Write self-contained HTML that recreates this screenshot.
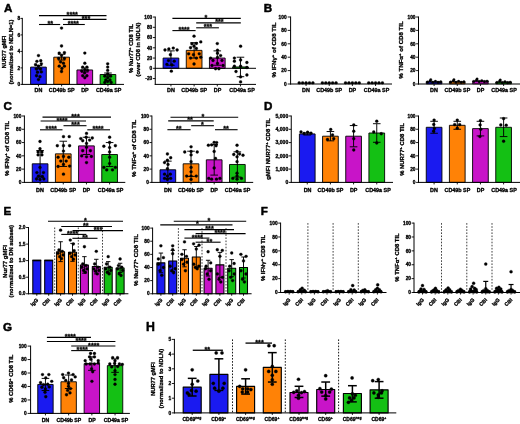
<!DOCTYPE html>
<html><head><meta charset="utf-8"><title>Figure</title>
<style>html,body{margin:0;padding:0;background:#fff}svg{display:block;filter:blur(0.45px)}</style>
</head><body>
<svg width="520" height="424" viewBox="0 0 520 424" font-family="'Liberation Sans',sans-serif" fill="#000">
<g stroke="#000" stroke-width="0.32" stroke-linejoin="round">
<text x="4" y="11.7" font-size="11.6" text-anchor="start" font-weight="bold" stroke-width="0.5">A</text>
<rect x="30.6" y="67.08" width="15.7" height="17.33" fill="#1a1af0" stroke="#000" stroke-width="0.9"/>
<rect x="53.77" y="57.18" width="15.7" height="27.22" fill="#ff8206" stroke="#000" stroke-width="0.9"/>
<rect x="76.94" y="69.96" width="15.7" height="14.44" fill="#c814c8" stroke="#000" stroke-width="0.9"/>
<rect x="100.11" y="74.5" width="15.7" height="9.9" fill="#14c014" stroke="#000" stroke-width="0.9"/>
<line x1="22.3" y1="17.9" x2="22.3" y2="84.9" stroke="#000" stroke-width="1"/>
<line x1="21.8" y1="84.4" x2="124" y2="84.4" stroke="#000" stroke-width="1"/>
<line x1="20.5" y1="18.4" x2="22.3" y2="18.4" stroke="#000" stroke-width="0.9"/>
<text x="20.1" y="20.1" font-size="4.8" text-anchor="end" font-weight="bold">8</text>
<line x1="20.5" y1="34.9" x2="22.3" y2="34.9" stroke="#000" stroke-width="0.9"/>
<text x="20.1" y="36.6" font-size="4.8" text-anchor="end" font-weight="bold">6</text>
<line x1="20.5" y1="51.4" x2="22.3" y2="51.4" stroke="#000" stroke-width="0.9"/>
<text x="20.1" y="53.1" font-size="4.8" text-anchor="end" font-weight="bold">4</text>
<line x1="20.5" y1="67.9" x2="22.3" y2="67.9" stroke="#000" stroke-width="0.9"/>
<text x="20.1" y="69.6" font-size="4.8" text-anchor="end" font-weight="bold">2</text>
<line x1="20.5" y1="84.4" x2="22.3" y2="84.4" stroke="#000" stroke-width="0.9"/>
<text x="20.1" y="86.1" font-size="4.8" text-anchor="end" font-weight="bold">0</text>
<line x1="38.45" y1="84.4" x2="38.45" y2="86.4" stroke="#000" stroke-width="0.9"/>
<line x1="61.62" y1="84.4" x2="61.62" y2="86.4" stroke="#000" stroke-width="0.9"/>
<line x1="84.79" y1="84.4" x2="84.79" y2="86.4" stroke="#000" stroke-width="0.9"/>
<line x1="107.96" y1="84.4" x2="107.96" y2="86.4" stroke="#000" stroke-width="0.9"/>
<line x1="38.45" y1="65.43" x2="38.45" y2="68.73" stroke="#000" stroke-width="0.95"/>
<line x1="34.65" y1="65.43" x2="42.25" y2="65.43" stroke="#000" stroke-width="0.95"/>
<line x1="34.65" y1="68.73" x2="42.25" y2="68.73" stroke="#000" stroke-width="0.95"/>
<line x1="61.62" y1="54.29" x2="61.62" y2="60.06" stroke="#000" stroke-width="0.95"/>
<line x1="57.82" y1="54.29" x2="65.42" y2="54.29" stroke="#000" stroke-width="0.95"/>
<line x1="57.82" y1="60.06" x2="65.42" y2="60.06" stroke="#000" stroke-width="0.95"/>
<line x1="84.79" y1="67.9" x2="84.79" y2="72.03" stroke="#000" stroke-width="0.95"/>
<line x1="80.99" y1="67.9" x2="88.59" y2="67.9" stroke="#000" stroke-width="0.95"/>
<line x1="80.99" y1="72.03" x2="88.59" y2="72.03" stroke="#000" stroke-width="0.95"/>
<line x1="107.96" y1="73.02" x2="107.96" y2="75.98" stroke="#000" stroke-width="0.95"/>
<line x1="104.16" y1="73.02" x2="111.76" y2="73.02" stroke="#000" stroke-width="0.95"/>
<line x1="104.16" y1="75.98" x2="111.76" y2="75.98" stroke="#000" stroke-width="0.95"/>
<text x="38.5" y="92.4" font-size="5.4" text-anchor="middle" font-weight="bold">DN</text>
<text x="61.7" y="92.4" font-size="5.4" text-anchor="middle" font-weight="bold">CD49b SP</text>
<text x="84.9" y="92.4" font-size="5.4" text-anchor="middle" font-weight="bold">DP</text>
<text x="108.7" y="92.4" font-size="5.4" text-anchor="middle" font-weight="bold">CD49a SP</text>
<circle cx="38.46" cy="55.58" r="1.45"/>
<circle cx="36.92" cy="61.35" r="1.45"/>
<circle cx="40.77" cy="60.77" r="1.45"/>
<circle cx="35.58" cy="64.62" r="1.45"/>
<circle cx="41.35" cy="63.85" r="1.45"/>
<circle cx="38.46" cy="66.15" r="1.45"/>
<circle cx="36.54" cy="69.04" r="1.45"/>
<circle cx="40.38" cy="69.04" r="1.45"/>
<circle cx="37.5" cy="72.31" r="1.45"/>
<circle cx="41.35" cy="71.92" r="1.45"/>
<circle cx="36.54" cy="75.77" r="1.45"/>
<circle cx="40" cy="76.73" r="1.45"/>
<circle cx="38.46" cy="79.62" r="1.45"/>
<circle cx="61.54" cy="28.08" r="1.45"/>
<circle cx="61.54" cy="45.96" r="1.45"/>
<circle cx="59.23" cy="53.08" r="1.45"/>
<circle cx="64.42" cy="52.69" r="1.45"/>
<circle cx="61.54" cy="55.58" r="1.45"/>
<circle cx="58.65" cy="58.46" r="1.45"/>
<circle cx="64.42" cy="58.46" r="1.45"/>
<circle cx="60.58" cy="61.92" r="1.45"/>
<circle cx="63.46" cy="63.27" r="1.45"/>
<circle cx="59.23" cy="66.15" r="1.45"/>
<circle cx="64.42" cy="66.15" r="1.45"/>
<circle cx="61.54" cy="71.54" r="1.45"/>
<circle cx="61.92" cy="68.46" r="1.45"/>
<circle cx="84.81" cy="53.08" r="1.45"/>
<circle cx="84.81" cy="63.27" r="1.45"/>
<circle cx="82.69" cy="67.12" r="1.45"/>
<circle cx="86.92" cy="67.12" r="1.45"/>
<circle cx="81.73" cy="70.96" r="1.45"/>
<circle cx="87.5" cy="70.38" r="1.45"/>
<circle cx="84.62" cy="72.88" r="1.45"/>
<circle cx="82.69" cy="75.77" r="1.45"/>
<circle cx="86.92" cy="75.77" r="1.45"/>
<circle cx="84.81" cy="77.69" r="1.45"/>
<circle cx="84.81" cy="69.62" r="1.45"/>
<circle cx="107.69" cy="63.85" r="1.45"/>
<circle cx="107.69" cy="67.12" r="1.45"/>
<circle cx="107.69" cy="70.38" r="1.45"/>
<circle cx="107.69" cy="73.85" r="1.45"/>
<circle cx="104.81" cy="76.15" r="1.45"/>
<circle cx="110.58" cy="76.15" r="1.45"/>
<circle cx="107.69" cy="77.69" r="1.45"/>
<circle cx="105.77" cy="80" r="1.45"/>
<circle cx="110" cy="80" r="1.45"/>
<circle cx="107.69" cy="81.54" r="1.45"/>
<circle cx="104.81" cy="82.5" r="1.45"/>
<circle cx="111.15" cy="82.5" r="1.45"/>
<text x="6.4" y="52" font-size="5.55" text-anchor="middle" font-weight="bold" transform="rotate(-90 6.4 52)">NUR77 gMFI</text>
<text x="13.4" y="52" font-size="5.7" text-anchor="middle" font-weight="bold" transform="rotate(-90 13.4 52)">(normalized to NDLN=1)</text>
<line x1="39" y1="15.6" x2="106.5" y2="15.6" stroke="#000" stroke-width="1.1"/>
<text x="72.2" y="17.1" font-size="7.2" text-anchor="middle" font-weight="bold" stroke-width="0.3">****</text>
<line x1="62.9" y1="19.4" x2="106.5" y2="19.4" stroke="#000" stroke-width="1.1"/>
<text x="86" y="20.9" font-size="7.2" text-anchor="middle" font-weight="bold" stroke-width="0.3">***</text>
<line x1="39" y1="24.5" x2="60.2" y2="24.5" stroke="#000" stroke-width="1.1"/>
<text x="50.3" y="26" font-size="7.2" text-anchor="middle" font-weight="bold" stroke-width="0.3">**</text>
<line x1="63" y1="24.5" x2="84.8" y2="24.5" stroke="#000" stroke-width="1.1"/>
<text x="73.3" y="26" font-size="7.2" text-anchor="middle" font-weight="bold" stroke-width="0.3">****</text>
<rect x="163.1" y="58.05" width="15.7" height="10.25" fill="#1a1af0" stroke="#000" stroke-width="0.9"/>
<rect x="186.27" y="50.36" width="15.7" height="17.94" fill="#ff8206" stroke="#000" stroke-width="0.9"/>
<rect x="209.44" y="58.05" width="15.7" height="10.25" fill="#c814c8" stroke="#000" stroke-width="0.9"/>
<rect x="232.61" y="66.97" width="15.7" height="1.33" fill="#14c014" stroke="#000" stroke-width="0.9"/>
<line x1="155.25" y1="16.55" x2="155.25" y2="84.9" stroke="#000" stroke-width="1"/>
<line x1="154.75" y1="68.3" x2="256" y2="68.3" stroke="#000" stroke-width="1"/>
<line x1="154.75" y1="84.4" x2="256" y2="84.4" stroke="#000" stroke-width="1"/>
<line x1="152.85" y1="17.05" x2="155.25" y2="17.05" stroke="#000" stroke-width="0.9"/>
<text x="152.25" y="18.75" font-size="4.8" text-anchor="end" font-weight="bold">100</text>
<line x1="152.85" y1="27.3" x2="155.25" y2="27.3" stroke="#000" stroke-width="0.9"/>
<text x="152.25" y="29" font-size="4.8" text-anchor="end" font-weight="bold">80</text>
<line x1="152.85" y1="37.55" x2="155.25" y2="37.55" stroke="#000" stroke-width="0.9"/>
<text x="152.25" y="39.25" font-size="4.8" text-anchor="end" font-weight="bold">60</text>
<line x1="152.85" y1="47.8" x2="155.25" y2="47.8" stroke="#000" stroke-width="0.9"/>
<text x="152.25" y="49.5" font-size="4.8" text-anchor="end" font-weight="bold">40</text>
<line x1="152.85" y1="58.05" x2="155.25" y2="58.05" stroke="#000" stroke-width="0.9"/>
<text x="152.25" y="59.75" font-size="4.8" text-anchor="end" font-weight="bold">20</text>
<line x1="152.85" y1="68.3" x2="155.25" y2="68.3" stroke="#000" stroke-width="0.9"/>
<text x="152.25" y="70" font-size="4.8" text-anchor="end" font-weight="bold">0</text>
<line x1="152.85" y1="78.55" x2="155.25" y2="78.55" stroke="#000" stroke-width="0.9"/>
<text x="152.25" y="80.25" font-size="4.8" text-anchor="end" font-weight="bold">-20</text>
<line x1="170.95" y1="84.4" x2="170.95" y2="86.4" stroke="#000" stroke-width="0.9"/>
<line x1="194.12" y1="84.4" x2="194.12" y2="86.4" stroke="#000" stroke-width="0.9"/>
<line x1="217.29" y1="84.4" x2="217.29" y2="86.4" stroke="#000" stroke-width="0.9"/>
<line x1="240.46" y1="84.4" x2="240.46" y2="86.4" stroke="#000" stroke-width="0.9"/>
<line x1="170.95" y1="50.88" x2="170.95" y2="65.22" stroke="#000" stroke-width="0.95"/>
<line x1="167.15" y1="50.88" x2="174.75" y2="50.88" stroke="#000" stroke-width="0.95"/>
<line x1="167.15" y1="65.22" x2="174.75" y2="65.22" stroke="#000" stroke-width="0.95"/>
<line x1="194.12" y1="42.67" x2="194.12" y2="58.05" stroke="#000" stroke-width="0.95"/>
<line x1="190.32" y1="42.67" x2="197.92" y2="42.67" stroke="#000" stroke-width="0.95"/>
<line x1="190.32" y1="58.05" x2="197.92" y2="58.05" stroke="#000" stroke-width="0.95"/>
<line x1="217.29" y1="50.88" x2="217.29" y2="65.22" stroke="#000" stroke-width="0.95"/>
<line x1="213.49" y1="50.88" x2="221.09" y2="50.88" stroke="#000" stroke-width="0.95"/>
<line x1="213.49" y1="65.22" x2="221.09" y2="65.22" stroke="#000" stroke-width="0.95"/>
<line x1="240.46" y1="57.23" x2="240.46" y2="76.7" stroke="#000" stroke-width="0.95"/>
<line x1="236.66" y1="57.23" x2="244.26" y2="57.23" stroke="#000" stroke-width="0.95"/>
<line x1="236.66" y1="76.7" x2="244.26" y2="76.7" stroke="#000" stroke-width="0.95"/>
<text x="171" y="92.2" font-size="5.4" text-anchor="middle" font-weight="bold">DN</text>
<text x="194.2" y="92.2" font-size="5.4" text-anchor="middle" font-weight="bold">CD49b SP</text>
<text x="217.6" y="92.2" font-size="5.4" text-anchor="middle" font-weight="bold">DP</text>
<text x="242" y="92.2" font-size="5.4" text-anchor="middle" font-weight="bold">CD49a SP</text>
<circle cx="165" cy="50" r="1.45"/>
<circle cx="168.85" cy="49.04" r="1.45"/>
<circle cx="173.27" cy="48.08" r="1.45"/>
<circle cx="177.12" cy="50" r="1.45"/>
<circle cx="170.38" cy="54.81" r="1.45"/>
<circle cx="168.46" cy="60.58" r="1.45"/>
<circle cx="174.23" cy="61.15" r="1.45"/>
<circle cx="166.92" cy="64.42" r="1.45"/>
<circle cx="171.92" cy="65" r="1.45"/>
<circle cx="171.35" cy="71.15" r="1.45"/>
<circle cx="194.04" cy="36.15" r="1.45"/>
<circle cx="200.77" cy="41.92" r="1.45"/>
<circle cx="191.92" cy="43.85" r="1.45"/>
<circle cx="196.35" cy="43.46" r="1.45"/>
<circle cx="190.58" cy="47.69" r="1.45"/>
<circle cx="196.35" cy="48.46" r="1.45"/>
<circle cx="194.04" cy="46.15" r="1.45"/>
<circle cx="188.65" cy="53.85" r="1.45"/>
<circle cx="193.46" cy="54.81" r="1.45"/>
<circle cx="199.23" cy="53.85" r="1.45"/>
<circle cx="190.58" cy="58.08" r="1.45"/>
<circle cx="196.35" cy="58.08" r="1.45"/>
<circle cx="200.77" cy="57.31" r="1.45"/>
<circle cx="194.04" cy="64.04" r="1.45"/>
<circle cx="217.3" cy="43.6" r="1.45"/>
<circle cx="217.5" cy="50.25" r="1.45"/>
<circle cx="217.5" cy="53.3" r="1.45"/>
<circle cx="220.6" cy="55.6" r="1.45"/>
<circle cx="210.6" cy="58.1" r="1.45"/>
<circle cx="215.6" cy="68.75" r="1.45"/>
<circle cx="218.9" cy="68.75" r="1.45"/>
<circle cx="213" cy="60.5" r="1.45"/>
<circle cx="222" cy="60.5" r="1.45"/>
<circle cx="217.5" cy="63.5" r="1.45"/>
<circle cx="212" cy="65.5" r="1.45"/>
<circle cx="223" cy="65.5" r="1.45"/>
<circle cx="217.5" cy="57.5" r="1.45"/>
<circle cx="240.6" cy="46.25" r="1.45"/>
<circle cx="234.4" cy="58.1" r="1.45"/>
<circle cx="234.4" cy="61.25" r="1.45"/>
<circle cx="240.6" cy="60" r="1.45"/>
<circle cx="246.9" cy="62.5" r="1.45"/>
<circle cx="234.4" cy="66.25" r="1.45"/>
<circle cx="240.6" cy="66.25" r="1.45"/>
<circle cx="246.9" cy="67.5" r="1.45"/>
<circle cx="246.9" cy="75" r="1.45"/>
<circle cx="240.6" cy="76.9" r="1.45"/>
<circle cx="240.6" cy="81.9" r="1.45"/>
<circle cx="236" cy="71.5" r="1.45"/>
<text x="133" y="48.5" font-size="5.8" text-anchor="middle" font-weight="bold" transform="rotate(-90 133 48.5)">% Nur77<tspan dy="-1.9" font-size="4.2">+</tspan><tspan dy="1.9"> </tspan>CD8 TIL</text>
<text x="139.7" y="49.5" font-size="5.8" text-anchor="middle" font-weight="bold" transform="rotate(-90 139.7 49.5)">(over CD8 in NDLN)</text>
<line x1="172.4" y1="18.4" x2="240.8" y2="18.4" stroke="#000" stroke-width="1.1"/>
<text x="206" y="19.9" font-size="7.2" text-anchor="middle" font-weight="bold" stroke-width="0.3">*</text>
<line x1="196.2" y1="22.9" x2="240.8" y2="22.9" stroke="#000" stroke-width="1.1"/>
<text x="219.4" y="24.4" font-size="7.2" text-anchor="middle" font-weight="bold" stroke-width="0.3">***</text>
<line x1="196.2" y1="27.8" x2="218.9" y2="27.8" stroke="#000" stroke-width="1.1"/>
<text x="207.9" y="29.3" font-size="7.2" text-anchor="middle" font-weight="bold" stroke-width="0.3">***</text>
<line x1="172.4" y1="30.6" x2="195.6" y2="30.6" stroke="#000" stroke-width="1.1"/>
<text x="184" y="32.1" font-size="7.2" text-anchor="middle" font-weight="bold" stroke-width="0.3">****</text>
<text x="263.8" y="11.6" font-size="11.6" text-anchor="start" font-weight="bold" stroke-width="0.5">B</text>
<line x1="290.6" y1="16.5" x2="290.6" y2="84.5" stroke="#000" stroke-width="1"/>
<line x1="290.1" y1="84" x2="392" y2="84" stroke="#000" stroke-width="1"/>
<line x1="287.7" y1="17" x2="290.6" y2="17" stroke="#000" stroke-width="0.9"/>
<text x="286.6" y="18.7" font-size="4.8" text-anchor="end" font-weight="bold">100</text>
<line x1="287.7" y1="30.4" x2="290.6" y2="30.4" stroke="#000" stroke-width="0.9"/>
<text x="286.6" y="32.1" font-size="4.8" text-anchor="end" font-weight="bold">80</text>
<line x1="287.7" y1="43.8" x2="290.6" y2="43.8" stroke="#000" stroke-width="0.9"/>
<text x="286.6" y="45.5" font-size="4.8" text-anchor="end" font-weight="bold">60</text>
<line x1="287.7" y1="57.2" x2="290.6" y2="57.2" stroke="#000" stroke-width="0.9"/>
<text x="286.6" y="58.9" font-size="4.8" text-anchor="end" font-weight="bold">40</text>
<line x1="287.7" y1="70.6" x2="290.6" y2="70.6" stroke="#000" stroke-width="0.9"/>
<text x="286.6" y="72.3" font-size="4.8" text-anchor="end" font-weight="bold">20</text>
<line x1="287.7" y1="84" x2="290.6" y2="84" stroke="#000" stroke-width="0.9"/>
<text x="286.6" y="85.7" font-size="4.8" text-anchor="end" font-weight="bold">0</text>
<line x1="306.05" y1="84" x2="306.05" y2="86" stroke="#000" stroke-width="0.9"/>
<line x1="329.22" y1="84" x2="329.22" y2="86" stroke="#000" stroke-width="0.9"/>
<line x1="352.39" y1="84" x2="352.39" y2="86" stroke="#000" stroke-width="0.9"/>
<line x1="375.56" y1="84" x2="375.56" y2="86" stroke="#000" stroke-width="0.9"/>
<text x="306" y="92.2" font-size="5.4" text-anchor="middle" font-weight="bold">DN</text>
<text x="329.2" y="92.2" font-size="5.4" text-anchor="middle" font-weight="bold">CD49b SP</text>
<text x="352.4" y="92.2" font-size="5.4" text-anchor="middle" font-weight="bold">DP</text>
<text x="376.5" y="92.2" font-size="5.4" text-anchor="middle" font-weight="bold">CD49a SP</text>
<line x1="297.7" y1="83.3" x2="314.4" y2="83.3" stroke="#000" stroke-width="0.9"/>
<circle cx="299.2" cy="82.8" r="1.4"/>
<circle cx="302.62" cy="82.8" r="1.4"/>
<circle cx="306.05" cy="82.8" r="1.4"/>
<circle cx="309.47" cy="82.8" r="1.4"/>
<circle cx="312.9" cy="82.8" r="1.4"/>
<line x1="320.87" y1="83.3" x2="337.57" y2="83.3" stroke="#000" stroke-width="0.9"/>
<circle cx="322.37" cy="82.8" r="1.4"/>
<circle cx="325.8" cy="82.8" r="1.4"/>
<circle cx="329.22" cy="82.8" r="1.4"/>
<circle cx="332.64" cy="82.8" r="1.4"/>
<circle cx="336.07" cy="82.8" r="1.4"/>
<line x1="344.04" y1="83.3" x2="360.74" y2="83.3" stroke="#000" stroke-width="0.9"/>
<circle cx="345.54" cy="82.8" r="1.4"/>
<circle cx="348.96" cy="82.8" r="1.4"/>
<circle cx="352.39" cy="82.8" r="1.4"/>
<circle cx="355.81" cy="82.8" r="1.4"/>
<circle cx="359.24" cy="82.8" r="1.4"/>
<line x1="367.21" y1="83.3" x2="383.91" y2="83.3" stroke="#000" stroke-width="0.9"/>
<circle cx="368.71" cy="82.8" r="1.4"/>
<circle cx="372.13" cy="82.8" r="1.4"/>
<circle cx="375.56" cy="82.8" r="1.4"/>
<circle cx="378.98" cy="82.8" r="1.4"/>
<circle cx="382.41" cy="82.8" r="1.4"/>
<text x="276" y="50" font-size="6.1" text-anchor="middle" font-weight="bold" transform="rotate(-90 276 50)">% IFN&#947;<tspan dy="-1.9" font-size="4.2">+</tspan><tspan dy="1.9"> </tspan>of CD8 TIL</text>
<rect x="426.25" y="81.66" width="15.7" height="2.34" fill="#1a1af0" stroke="#000" stroke-width="0.6"/>
<rect x="449.42" y="81.66" width="15.7" height="2.34" fill="#ff8206" stroke="#000" stroke-width="0.6"/>
<rect x="472.59" y="80.98" width="15.7" height="3.02" fill="#c814c8" stroke="#000" stroke-width="0.6"/>
<rect x="495.76" y="81.99" width="15.7" height="2.01" fill="#14c014" stroke="#000" stroke-width="0.6"/>
<line x1="418.5" y1="16.5" x2="418.5" y2="84.5" stroke="#000" stroke-width="1"/>
<line x1="418" y1="84" x2="520" y2="84" stroke="#000" stroke-width="1"/>
<line x1="416.1" y1="17" x2="418.5" y2="17" stroke="#000" stroke-width="0.9"/>
<text x="415.5" y="18.7" font-size="4.8" text-anchor="end" font-weight="bold">100</text>
<line x1="416.1" y1="30.4" x2="418.5" y2="30.4" stroke="#000" stroke-width="0.9"/>
<text x="415.5" y="32.1" font-size="4.8" text-anchor="end" font-weight="bold">80</text>
<line x1="416.1" y1="43.8" x2="418.5" y2="43.8" stroke="#000" stroke-width="0.9"/>
<text x="415.5" y="45.5" font-size="4.8" text-anchor="end" font-weight="bold">60</text>
<line x1="416.1" y1="57.2" x2="418.5" y2="57.2" stroke="#000" stroke-width="0.9"/>
<text x="415.5" y="58.9" font-size="4.8" text-anchor="end" font-weight="bold">40</text>
<line x1="416.1" y1="70.6" x2="418.5" y2="70.6" stroke="#000" stroke-width="0.9"/>
<text x="415.5" y="72.3" font-size="4.8" text-anchor="end" font-weight="bold">20</text>
<line x1="416.1" y1="84" x2="418.5" y2="84" stroke="#000" stroke-width="0.9"/>
<text x="415.5" y="85.7" font-size="4.8" text-anchor="end" font-weight="bold">0</text>
<line x1="434.1" y1="84" x2="434.1" y2="86" stroke="#000" stroke-width="0.9"/>
<line x1="457.27" y1="84" x2="457.27" y2="86" stroke="#000" stroke-width="0.9"/>
<line x1="480.44" y1="84" x2="480.44" y2="86" stroke="#000" stroke-width="0.9"/>
<line x1="503.61" y1="84" x2="503.61" y2="86" stroke="#000" stroke-width="0.9"/>
<circle cx="427.45" cy="82.16" r="1.35"/>
<circle cx="430.11" cy="81.06" r="1.35"/>
<circle cx="432.77" cy="82.25" r="1.35"/>
<circle cx="435.43" cy="81.45" r="1.35"/>
<circle cx="438.09" cy="82.36" r="1.35"/>
<circle cx="440.75" cy="81.95" r="1.35"/>
<circle cx="430.75" cy="79.66" r="1.25"/>
<circle cx="450.62" cy="82.16" r="1.35"/>
<circle cx="453.28" cy="81.06" r="1.35"/>
<circle cx="455.94" cy="82.25" r="1.35"/>
<circle cx="458.6" cy="81.45" r="1.35"/>
<circle cx="461.26" cy="82.36" r="1.35"/>
<circle cx="463.92" cy="81.95" r="1.35"/>
<circle cx="453.92" cy="79.66" r="1.25"/>
<circle cx="473.79" cy="81.48" r="1.35"/>
<circle cx="476.45" cy="80.39" r="1.35"/>
<circle cx="479.11" cy="81.58" r="1.35"/>
<circle cx="481.77" cy="80.78" r="1.35"/>
<circle cx="484.43" cy="81.69" r="1.35"/>
<circle cx="487.09" cy="81.28" r="1.35"/>
<circle cx="477.09" cy="78.98" r="1.25"/>
<circle cx="496.96" cy="82.49" r="1.35"/>
<circle cx="499.62" cy="81.39" r="1.35"/>
<circle cx="502.28" cy="82.59" r="1.35"/>
<circle cx="504.94" cy="81.79" r="1.35"/>
<circle cx="507.6" cy="82.69" r="1.35"/>
<circle cx="510.26" cy="82.29" r="1.35"/>
<circle cx="500.26" cy="79.99" r="1.25"/>
<text x="434" y="92.2" font-size="5.4" text-anchor="middle" font-weight="bold">DN</text>
<text x="457.4" y="92.2" font-size="5.4" text-anchor="middle" font-weight="bold">CD49b SP</text>
<text x="480.5" y="92.2" font-size="5.4" text-anchor="middle" font-weight="bold">DP</text>
<text x="504" y="92.2" font-size="5.4" text-anchor="middle" font-weight="bold">CD49a SP</text>
<text x="403.3" y="50" font-size="6.1" text-anchor="middle" font-weight="bold" transform="rotate(-90 403.3 50)">% TNF&#945;<tspan dy="-1.9" font-size="4.2">+</tspan><tspan dy="1.9"> </tspan>of CD8 TIL</text>
<text x="3.4" y="109.5" font-size="11.6" text-anchor="start" font-weight="bold" stroke-width="0.5">C</text>
<rect x="32.25" y="163.81" width="15.7" height="18.59" fill="#1a1af0" stroke="#000" stroke-width="0.9"/>
<rect x="55.42" y="153.85" width="15.7" height="28.55" fill="#ff8206" stroke="#000" stroke-width="0.9"/>
<rect x="78.59" y="145.88" width="15.7" height="36.52" fill="#c814c8" stroke="#000" stroke-width="0.9"/>
<rect x="101.76" y="154.51" width="15.7" height="27.89" fill="#14c014" stroke="#000" stroke-width="0.9"/>
<line x1="24.4" y1="115.5" x2="24.4" y2="182.9" stroke="#000" stroke-width="1"/>
<line x1="23.9" y1="182.4" x2="125.3" y2="182.4" stroke="#000" stroke-width="1"/>
<line x1="22" y1="116" x2="24.4" y2="116" stroke="#000" stroke-width="0.9"/>
<text x="21.4" y="117.7" font-size="4.8" text-anchor="end" font-weight="bold">100</text>
<line x1="22" y1="129.28" x2="24.4" y2="129.28" stroke="#000" stroke-width="0.9"/>
<text x="21.4" y="130.98" font-size="4.8" text-anchor="end" font-weight="bold">80</text>
<line x1="22" y1="142.56" x2="24.4" y2="142.56" stroke="#000" stroke-width="0.9"/>
<text x="21.4" y="144.26" font-size="4.8" text-anchor="end" font-weight="bold">60</text>
<line x1="22" y1="155.84" x2="24.4" y2="155.84" stroke="#000" stroke-width="0.9"/>
<text x="21.4" y="157.54" font-size="4.8" text-anchor="end" font-weight="bold">40</text>
<line x1="22" y1="169.12" x2="24.4" y2="169.12" stroke="#000" stroke-width="0.9"/>
<text x="21.4" y="170.82" font-size="4.8" text-anchor="end" font-weight="bold">20</text>
<line x1="22" y1="182.4" x2="24.4" y2="182.4" stroke="#000" stroke-width="0.9"/>
<text x="21.4" y="184.1" font-size="4.8" text-anchor="end" font-weight="bold">0</text>
<line x1="40.1" y1="182.4" x2="40.1" y2="184.4" stroke="#000" stroke-width="0.9"/>
<line x1="63.27" y1="182.4" x2="63.27" y2="184.4" stroke="#000" stroke-width="0.9"/>
<line x1="86.44" y1="182.4" x2="86.44" y2="184.4" stroke="#000" stroke-width="0.9"/>
<line x1="109.61" y1="182.4" x2="109.61" y2="184.4" stroke="#000" stroke-width="0.9"/>
<line x1="40.1" y1="150.53" x2="40.1" y2="177.09" stroke="#000" stroke-width="0.95"/>
<line x1="36.3" y1="150.53" x2="43.9" y2="150.53" stroke="#000" stroke-width="0.95"/>
<line x1="36.3" y1="177.09" x2="43.9" y2="177.09" stroke="#000" stroke-width="0.95"/>
<line x1="63.27" y1="141.23" x2="63.27" y2="166.46" stroke="#000" stroke-width="0.95"/>
<line x1="59.47" y1="141.23" x2="67.07" y2="141.23" stroke="#000" stroke-width="0.95"/>
<line x1="59.47" y1="166.46" x2="67.07" y2="166.46" stroke="#000" stroke-width="0.95"/>
<line x1="86.44" y1="137.25" x2="86.44" y2="154.51" stroke="#000" stroke-width="0.95"/>
<line x1="82.64" y1="137.25" x2="90.24" y2="137.25" stroke="#000" stroke-width="0.95"/>
<line x1="82.64" y1="154.51" x2="90.24" y2="154.51" stroke="#000" stroke-width="0.95"/>
<line x1="109.61" y1="142.56" x2="109.61" y2="166.46" stroke="#000" stroke-width="0.95"/>
<line x1="105.81" y1="142.56" x2="113.41" y2="142.56" stroke="#000" stroke-width="0.95"/>
<line x1="105.81" y1="166.46" x2="113.41" y2="166.46" stroke="#000" stroke-width="0.95"/>
<text x="40" y="191.7" font-size="5.4" text-anchor="middle" font-weight="bold">DN</text>
<text x="63.2" y="191.7" font-size="5.4" text-anchor="middle" font-weight="bold">CD49b SP</text>
<text x="86.4" y="191.7" font-size="5.4" text-anchor="middle" font-weight="bold">DP</text>
<text x="110.6" y="191.7" font-size="5.4" text-anchor="middle" font-weight="bold">CD49a SP</text>
<circle cx="40" cy="141.46" r="1.45"/>
<circle cx="40" cy="148.77" r="1.45"/>
<circle cx="38.08" cy="152.04" r="1.45"/>
<circle cx="41.92" cy="152.04" r="1.45"/>
<circle cx="38.08" cy="154.92" r="1.45"/>
<circle cx="41.92" cy="154.92" r="1.45"/>
<circle cx="40" cy="167.42" r="1.45"/>
<circle cx="36.92" cy="172.62" r="1.45"/>
<circle cx="43.46" cy="172.62" r="1.45"/>
<circle cx="38.46" cy="176.08" r="1.45"/>
<circle cx="42.31" cy="176.46" r="1.45"/>
<circle cx="36.54" cy="178.96" r="1.45"/>
<circle cx="43.85" cy="178.96" r="1.45"/>
<circle cx="40" cy="179.54" r="1.45"/>
<circle cx="63.46" cy="136.65" r="1.45"/>
<circle cx="69.23" cy="136.65" r="1.45"/>
<circle cx="57.31" cy="145.69" r="1.45"/>
<circle cx="63.46" cy="145.69" r="1.45"/>
<circle cx="69.62" cy="145.69" r="1.45"/>
<circle cx="63.46" cy="151.08" r="1.45"/>
<circle cx="58.08" cy="157.23" r="1.45"/>
<circle cx="63.46" cy="156.46" r="1.45"/>
<circle cx="68.85" cy="157.23" r="1.45"/>
<circle cx="60.77" cy="161.08" r="1.45"/>
<circle cx="66.15" cy="161.08" r="1.45"/>
<circle cx="63.46" cy="164.54" r="1.45"/>
<circle cx="58.08" cy="166.46" r="1.45"/>
<circle cx="69.62" cy="166.08" r="1.45"/>
<circle cx="63.46" cy="174.15" r="1.45"/>
<circle cx="86.54" cy="133.38" r="1.45"/>
<circle cx="80.77" cy="138.58" r="1.45"/>
<circle cx="86.15" cy="137.23" r="1.45"/>
<circle cx="92.31" cy="138" r="1.45"/>
<circle cx="82.69" cy="140.69" r="1.45"/>
<circle cx="89.62" cy="140.12" r="1.45"/>
<circle cx="86.54" cy="143.38" r="1.45"/>
<circle cx="86.54" cy="147.23" r="1.45"/>
<circle cx="82.69" cy="150.69" r="1.45"/>
<circle cx="90.38" cy="150.69" r="1.45"/>
<circle cx="81.73" cy="155.88" r="1.45"/>
<circle cx="86.54" cy="156.85" r="1.45"/>
<circle cx="91.35" cy="156.46" r="1.45"/>
<circle cx="86.54" cy="162.62" r="1.45"/>
<circle cx="109.62" cy="137.23" r="1.45"/>
<circle cx="109.62" cy="142.42" r="1.45"/>
<circle cx="103.85" cy="146.27" r="1.45"/>
<circle cx="115.38" cy="145.69" r="1.45"/>
<circle cx="109.62" cy="147.62" r="1.45"/>
<circle cx="109.62" cy="152.04" r="1.45"/>
<circle cx="109.62" cy="163.58" r="1.45"/>
<circle cx="103.85" cy="167.42" r="1.45"/>
<circle cx="115.38" cy="167.42" r="1.45"/>
<circle cx="106.73" cy="169.92" r="1.45"/>
<circle cx="112.5" cy="169.92" r="1.45"/>
<circle cx="109.62" cy="157.23" r="1.45"/>
<text x="8.7" y="148.5" font-size="6.1" text-anchor="middle" font-weight="bold" transform="rotate(-90 8.7 148.5)">% IFN&#947;<tspan dy="-1.9" font-size="4.2">+</tspan><tspan dy="1.9"> </tspan>of CD8 TIL</text>
<line x1="42.5" y1="117.1" x2="111" y2="117.1" stroke="#000" stroke-width="1.1"/>
<text x="75.5" y="118.6" font-size="7.2" text-anchor="middle" font-weight="bold" stroke-width="0.3">***</text>
<line x1="40.6" y1="121" x2="86" y2="121" stroke="#000" stroke-width="1.1"/>
<text x="62" y="122.5" font-size="7.2" text-anchor="middle" font-weight="bold" stroke-width="0.3">****</text>
<line x1="63.5" y1="125.7" x2="86.5" y2="125.7" stroke="#000" stroke-width="1.1"/>
<text x="75.5" y="127.2" font-size="7.2" text-anchor="middle" font-weight="bold" stroke-width="0.3">***</text>
<line x1="40" y1="129.8" x2="62.5" y2="129.8" stroke="#000" stroke-width="1.1"/>
<text x="51.2" y="131.3" font-size="7.2" text-anchor="middle" font-weight="bold" stroke-width="0.3">****</text>
<line x1="87.3" y1="129.8" x2="110" y2="129.8" stroke="#000" stroke-width="1.1"/>
<text x="98" y="131.3" font-size="7.2" text-anchor="middle" font-weight="bold" stroke-width="0.3">****</text>
<rect x="160" y="169.78" width="15.7" height="12.62" fill="#1a1af0" stroke="#000" stroke-width="0.9"/>
<rect x="183.17" y="163.81" width="15.7" height="18.59" fill="#ff8206" stroke="#000" stroke-width="0.9"/>
<rect x="206.34" y="159.82" width="15.7" height="22.58" fill="#c814c8" stroke="#000" stroke-width="0.9"/>
<rect x="229.51" y="164.47" width="15.7" height="17.93" fill="#14c014" stroke="#000" stroke-width="0.9"/>
<line x1="151.9" y1="115.5" x2="151.9" y2="182.9" stroke="#000" stroke-width="1"/>
<line x1="151.4" y1="182.4" x2="253.2" y2="182.4" stroke="#000" stroke-width="1"/>
<line x1="149.5" y1="116" x2="151.9" y2="116" stroke="#000" stroke-width="0.9"/>
<text x="148.9" y="117.7" font-size="4.8" text-anchor="end" font-weight="bold">100</text>
<line x1="149.5" y1="129.28" x2="151.9" y2="129.28" stroke="#000" stroke-width="0.9"/>
<text x="148.9" y="130.98" font-size="4.8" text-anchor="end" font-weight="bold">80</text>
<line x1="149.5" y1="142.56" x2="151.9" y2="142.56" stroke="#000" stroke-width="0.9"/>
<text x="148.9" y="144.26" font-size="4.8" text-anchor="end" font-weight="bold">60</text>
<line x1="149.5" y1="155.84" x2="151.9" y2="155.84" stroke="#000" stroke-width="0.9"/>
<text x="148.9" y="157.54" font-size="4.8" text-anchor="end" font-weight="bold">40</text>
<line x1="149.5" y1="169.12" x2="151.9" y2="169.12" stroke="#000" stroke-width="0.9"/>
<text x="148.9" y="170.82" font-size="4.8" text-anchor="end" font-weight="bold">20</text>
<line x1="149.5" y1="182.4" x2="151.9" y2="182.4" stroke="#000" stroke-width="0.9"/>
<text x="148.9" y="184.1" font-size="4.8" text-anchor="end" font-weight="bold">0</text>
<line x1="167.85" y1="182.4" x2="167.85" y2="184.4" stroke="#000" stroke-width="0.9"/>
<line x1="191.02" y1="182.4" x2="191.02" y2="184.4" stroke="#000" stroke-width="0.9"/>
<line x1="214.19" y1="182.4" x2="214.19" y2="184.4" stroke="#000" stroke-width="0.9"/>
<line x1="237.36" y1="182.4" x2="237.36" y2="184.4" stroke="#000" stroke-width="0.9"/>
<line x1="167.85" y1="161.15" x2="167.85" y2="178.42" stroke="#000" stroke-width="0.95"/>
<line x1="164.05" y1="161.15" x2="171.65" y2="161.15" stroke="#000" stroke-width="0.95"/>
<line x1="164.05" y1="178.42" x2="171.65" y2="178.42" stroke="#000" stroke-width="0.95"/>
<line x1="191.02" y1="151.19" x2="191.02" y2="176.42" stroke="#000" stroke-width="0.95"/>
<line x1="187.22" y1="151.19" x2="194.82" y2="151.19" stroke="#000" stroke-width="0.95"/>
<line x1="187.22" y1="176.42" x2="194.82" y2="176.42" stroke="#000" stroke-width="0.95"/>
<line x1="214.19" y1="144.55" x2="214.19" y2="175.1" stroke="#000" stroke-width="0.95"/>
<line x1="210.39" y1="144.55" x2="217.99" y2="144.55" stroke="#000" stroke-width="0.95"/>
<line x1="210.39" y1="175.1" x2="217.99" y2="175.1" stroke="#000" stroke-width="0.95"/>
<line x1="237.36" y1="151.86" x2="237.36" y2="177.09" stroke="#000" stroke-width="0.95"/>
<line x1="233.56" y1="151.86" x2="241.16" y2="151.86" stroke="#000" stroke-width="0.95"/>
<line x1="233.56" y1="177.09" x2="241.16" y2="177.09" stroke="#000" stroke-width="0.95"/>
<text x="167.8" y="191.7" font-size="5.4" text-anchor="middle" font-weight="bold">DN</text>
<text x="190.8" y="191.7" font-size="5.4" text-anchor="middle" font-weight="bold">CD49b SP</text>
<text x="214.2" y="191.7" font-size="5.4" text-anchor="middle" font-weight="bold">DP</text>
<text x="237.6" y="191.7" font-size="5.4" text-anchor="middle" font-weight="bold">CD49a SP</text>
<circle cx="167.42" cy="153.96" r="1.45"/>
<circle cx="170.69" cy="157.81" r="1.45"/>
<circle cx="167.42" cy="160.31" r="1.45"/>
<circle cx="164.54" cy="162.62" r="1.45"/>
<circle cx="168" cy="164.54" r="1.45"/>
<circle cx="167.42" cy="168.77" r="1.45"/>
<circle cx="164.54" cy="174.15" r="1.45"/>
<circle cx="170.31" cy="174.15" r="1.45"/>
<circle cx="167.42" cy="176.08" r="1.45"/>
<circle cx="164.54" cy="178.38" r="1.45"/>
<circle cx="170.69" cy="178.38" r="1.45"/>
<circle cx="167.42" cy="179.54" r="1.45"/>
<circle cx="191.08" cy="146.85" r="1.45"/>
<circle cx="184.73" cy="152.04" r="1.45"/>
<circle cx="191.08" cy="151.46" r="1.45"/>
<circle cx="197.23" cy="152.04" r="1.45"/>
<circle cx="191.08" cy="154.92" r="1.45"/>
<circle cx="191.08" cy="161.65" r="1.45"/>
<circle cx="191.08" cy="167.42" r="1.45"/>
<circle cx="191.08" cy="171.85" r="1.45"/>
<circle cx="186.65" cy="176.08" r="1.45"/>
<circle cx="191.08" cy="176.08" r="1.45"/>
<circle cx="196.27" cy="176.08" r="1.45"/>
<circle cx="191.08" cy="179.54" r="1.45"/>
<circle cx="214.15" cy="142.42" r="1.45"/>
<circle cx="216.65" cy="142.62" r="1.45"/>
<circle cx="208.38" cy="145.31" r="1.45"/>
<circle cx="211.65" cy="144.92" r="1.45"/>
<circle cx="216.08" cy="145.69" r="1.45"/>
<circle cx="214.15" cy="151.46" r="1.45"/>
<circle cx="215.5" cy="158.38" r="1.45"/>
<circle cx="214.15" cy="168" r="1.45"/>
<circle cx="208.77" cy="178.38" r="1.45"/>
<circle cx="211.65" cy="179.15" r="1.45"/>
<circle cx="216.46" cy="179.15" r="1.45"/>
<circle cx="219.92" cy="178.38" r="1.45"/>
<circle cx="237.04" cy="145.31" r="1.45"/>
<circle cx="237.04" cy="151.46" r="1.45"/>
<circle cx="233.77" cy="154.54" r="1.45"/>
<circle cx="239.54" cy="153.96" r="1.45"/>
<circle cx="237.04" cy="156.85" r="1.45"/>
<circle cx="243" cy="155.31" r="1.45"/>
<circle cx="237.04" cy="161.65" r="1.45"/>
<circle cx="237.04" cy="173.19" r="1.45"/>
<circle cx="232.81" cy="178.38" r="1.45"/>
<circle cx="237.04" cy="179.15" r="1.45"/>
<circle cx="241.46" cy="178.38" r="1.45"/>
<circle cx="237.04" cy="176.08" r="1.45"/>
<text x="136.1" y="148.3" font-size="6.1" text-anchor="middle" font-weight="bold" transform="rotate(-90 136.1 148.3)">% TNF&#945;<tspan dy="-1.9" font-size="4.2">+</tspan><tspan dy="1.9"> </tspan>of CD8 TIL</text>
<line x1="170.5" y1="117.2" x2="238.2" y2="117.2" stroke="#000" stroke-width="1.1"/>
<text x="202.9" y="118.7" font-size="7.2" text-anchor="middle" font-weight="bold" stroke-width="0.3">*</text>
<line x1="168.2" y1="120.9" x2="213.7" y2="120.9" stroke="#000" stroke-width="1.1"/>
<text x="190.1" y="122.4" font-size="7.2" text-anchor="middle" font-weight="bold" stroke-width="0.3">**</text>
<line x1="191.2" y1="125.7" x2="213.9" y2="125.7" stroke="#000" stroke-width="1.1"/>
<text x="202.5" y="127.2" font-size="7.2" text-anchor="middle" font-weight="bold" stroke-width="0.3">*</text>
<line x1="167.4" y1="129.7" x2="190.6" y2="129.7" stroke="#000" stroke-width="1.1"/>
<text x="178.8" y="131.2" font-size="7.2" text-anchor="middle" font-weight="bold" stroke-width="0.3">**</text>
<line x1="215" y1="129.7" x2="237.6" y2="129.7" stroke="#000" stroke-width="1.1"/>
<text x="226.1" y="131.2" font-size="7.2" text-anchor="middle" font-weight="bold" stroke-width="0.3">**</text>
<text x="264" y="110.4" font-size="11.6" text-anchor="start" font-weight="bold" stroke-width="0.5">D</text>
<rect x="299.4" y="133.93" width="15.7" height="48.47" fill="#1a1af0" stroke="#000" stroke-width="0.9"/>
<rect x="322.57" y="136.19" width="15.7" height="46.21" fill="#ff8206" stroke="#000" stroke-width="0.9"/>
<rect x="345.74" y="136.19" width="15.7" height="46.21" fill="#c814c8" stroke="#000" stroke-width="0.9"/>
<rect x="368.91" y="133" width="15.7" height="49.4" fill="#14c014" stroke="#000" stroke-width="0.9"/>
<line x1="291.25" y1="115.5" x2="291.25" y2="182.9" stroke="#000" stroke-width="1"/>
<line x1="290.75" y1="182.4" x2="393" y2="182.4" stroke="#000" stroke-width="1"/>
<line x1="288.85" y1="116" x2="291.25" y2="116" stroke="#000" stroke-width="0.9"/>
<text x="288.25" y="117.7" font-size="5.1" text-anchor="end" font-weight="bold">5,000</text>
<line x1="288.85" y1="129.3" x2="291.25" y2="129.3" stroke="#000" stroke-width="0.9"/>
<text x="288.25" y="131" font-size="5.1" text-anchor="end" font-weight="bold">4,000</text>
<line x1="288.85" y1="142.6" x2="291.25" y2="142.6" stroke="#000" stroke-width="0.9"/>
<text x="288.25" y="144.3" font-size="5.1" text-anchor="end" font-weight="bold">3,000</text>
<line x1="288.85" y1="155.9" x2="291.25" y2="155.9" stroke="#000" stroke-width="0.9"/>
<text x="288.25" y="157.6" font-size="5.1" text-anchor="end" font-weight="bold">2,000</text>
<line x1="288.85" y1="169.1" x2="291.25" y2="169.1" stroke="#000" stroke-width="0.9"/>
<text x="288.25" y="170.8" font-size="5.1" text-anchor="end" font-weight="bold">1,000</text>
<line x1="288.85" y1="182.4" x2="291.25" y2="182.4" stroke="#000" stroke-width="0.9"/>
<text x="288.25" y="184.1" font-size="5.1" text-anchor="end" font-weight="bold">0</text>
<line x1="307.25" y1="182.4" x2="307.25" y2="184.4" stroke="#000" stroke-width="0.9"/>
<line x1="330.42" y1="182.4" x2="330.42" y2="184.4" stroke="#000" stroke-width="0.9"/>
<line x1="353.59" y1="182.4" x2="353.59" y2="184.4" stroke="#000" stroke-width="0.9"/>
<line x1="376.76" y1="182.4" x2="376.76" y2="184.4" stroke="#000" stroke-width="0.9"/>
<line x1="307.25" y1="132.87" x2="307.25" y2="134.99" stroke="#000" stroke-width="0.95"/>
<line x1="303.45" y1="132.87" x2="311.05" y2="132.87" stroke="#000" stroke-width="0.95"/>
<line x1="303.45" y1="134.99" x2="311.05" y2="134.99" stroke="#000" stroke-width="0.95"/>
<line x1="330.42" y1="131.54" x2="330.42" y2="140.83" stroke="#000" stroke-width="0.95"/>
<line x1="326.62" y1="131.54" x2="334.22" y2="131.54" stroke="#000" stroke-width="0.95"/>
<line x1="326.62" y1="140.83" x2="334.22" y2="140.83" stroke="#000" stroke-width="0.95"/>
<line x1="353.59" y1="125.56" x2="353.59" y2="146.81" stroke="#000" stroke-width="0.95"/>
<line x1="349.79" y1="125.56" x2="357.39" y2="125.56" stroke="#000" stroke-width="0.95"/>
<line x1="349.79" y1="146.81" x2="357.39" y2="146.81" stroke="#000" stroke-width="0.95"/>
<line x1="376.76" y1="123.7" x2="376.76" y2="142.29" stroke="#000" stroke-width="0.95"/>
<line x1="372.96" y1="123.7" x2="380.56" y2="123.7" stroke="#000" stroke-width="0.95"/>
<line x1="372.96" y1="142.29" x2="380.56" y2="142.29" stroke="#000" stroke-width="0.95"/>
<text x="307.6" y="191.6" font-size="5.4" text-anchor="middle" font-weight="bold">DN</text>
<text x="330.5" y="191.6" font-size="5.4" text-anchor="middle" font-weight="bold">CD49b SP</text>
<text x="353.7" y="191.6" font-size="5.4" text-anchor="middle" font-weight="bold">DP</text>
<text x="378" y="191.6" font-size="5.4" text-anchor="middle" font-weight="bold">CD49a SP</text>
<circle cx="301" cy="132" r="1.45"/>
<circle cx="307.6" cy="132.3" r="1.45"/>
<circle cx="304" cy="133.4" r="1.45"/>
<circle cx="311" cy="133.2" r="1.45"/>
<circle cx="330.75" cy="129.5" r="1.45"/>
<circle cx="332.5" cy="135" r="1.45"/>
<circle cx="327.5" cy="139.5" r="1.45"/>
<circle cx="333.75" cy="138.75" r="1.45"/>
<circle cx="353.75" cy="125" r="1.45"/>
<circle cx="353.75" cy="131.25" r="1.45"/>
<circle cx="353.75" cy="138.75" r="1.45"/>
<circle cx="353.75" cy="150" r="1.45"/>
<circle cx="376.75" cy="121.25" r="1.45"/>
<circle cx="373.75" cy="132" r="1.45"/>
<circle cx="381.25" cy="133.75" r="1.45"/>
<circle cx="376.75" cy="143" r="1.45"/>
<text x="269.8" y="149" font-size="5.95" text-anchor="middle" font-weight="bold" transform="rotate(-90 269.8 149)">gMFI NUR77<tspan dy="-1.9" font-size="4.2">+</tspan><tspan dy="1.9"> </tspan>CD8 TIL</text>
<rect x="426.25" y="127.29" width="15.7" height="55.11" fill="#1a1af0" stroke="#000" stroke-width="0.9"/>
<rect x="449.42" y="125.3" width="15.7" height="57.1" fill="#ff8206" stroke="#000" stroke-width="0.9"/>
<rect x="472.59" y="128.62" width="15.7" height="53.78" fill="#c814c8" stroke="#000" stroke-width="0.9"/>
<rect x="495.76" y="127.29" width="15.7" height="55.11" fill="#14c014" stroke="#000" stroke-width="0.9"/>
<line x1="418.5" y1="115.5" x2="418.5" y2="182.9" stroke="#000" stroke-width="1"/>
<line x1="418" y1="182.4" x2="520" y2="182.4" stroke="#000" stroke-width="1"/>
<line x1="416.1" y1="116" x2="418.5" y2="116" stroke="#000" stroke-width="0.9"/>
<text x="415.5" y="117.7" font-size="4.8" text-anchor="end" font-weight="bold">100</text>
<line x1="416.1" y1="129.28" x2="418.5" y2="129.28" stroke="#000" stroke-width="0.9"/>
<text x="415.5" y="130.98" font-size="4.8" text-anchor="end" font-weight="bold">80</text>
<line x1="416.1" y1="142.56" x2="418.5" y2="142.56" stroke="#000" stroke-width="0.9"/>
<text x="415.5" y="144.26" font-size="4.8" text-anchor="end" font-weight="bold">60</text>
<line x1="416.1" y1="155.84" x2="418.5" y2="155.84" stroke="#000" stroke-width="0.9"/>
<text x="415.5" y="157.54" font-size="4.8" text-anchor="end" font-weight="bold">40</text>
<line x1="416.1" y1="169.12" x2="418.5" y2="169.12" stroke="#000" stroke-width="0.9"/>
<text x="415.5" y="170.82" font-size="4.8" text-anchor="end" font-weight="bold">20</text>
<line x1="416.1" y1="182.4" x2="418.5" y2="182.4" stroke="#000" stroke-width="0.9"/>
<text x="415.5" y="184.1" font-size="4.8" text-anchor="end" font-weight="bold">0</text>
<line x1="434.1" y1="182.4" x2="434.1" y2="184.4" stroke="#000" stroke-width="0.9"/>
<line x1="457.27" y1="182.4" x2="457.27" y2="184.4" stroke="#000" stroke-width="0.9"/>
<line x1="480.44" y1="182.4" x2="480.44" y2="184.4" stroke="#000" stroke-width="0.9"/>
<line x1="503.61" y1="182.4" x2="503.61" y2="184.4" stroke="#000" stroke-width="0.9"/>
<line x1="434.1" y1="121.31" x2="434.1" y2="133.26" stroke="#000" stroke-width="0.95"/>
<line x1="430.3" y1="121.31" x2="437.9" y2="121.31" stroke="#000" stroke-width="0.95"/>
<line x1="430.3" y1="133.26" x2="437.9" y2="133.26" stroke="#000" stroke-width="0.95"/>
<circle cx="434.1" cy="120.12" r="1.45"/>
<circle cx="433.77" cy="124.5" r="1.45"/>
<circle cx="434.43" cy="128.62" r="1.45"/>
<circle cx="433.59" cy="131.27" r="1.45"/>
<line x1="457.27" y1="121.31" x2="457.27" y2="129.28" stroke="#000" stroke-width="0.95"/>
<line x1="453.47" y1="121.31" x2="461.07" y2="121.31" stroke="#000" stroke-width="0.95"/>
<line x1="453.47" y1="129.28" x2="461.07" y2="129.28" stroke="#000" stroke-width="0.95"/>
<circle cx="457.27" cy="120.12" r="1.45"/>
<circle cx="454.67" cy="124.63" r="1.45"/>
<circle cx="459.67" cy="124.63" r="1.45"/>
<circle cx="457.27" cy="128.15" r="1.45"/>
<line x1="480.44" y1="121.31" x2="480.44" y2="135.92" stroke="#000" stroke-width="0.95"/>
<line x1="476.64" y1="121.31" x2="484.24" y2="121.31" stroke="#000" stroke-width="0.95"/>
<line x1="476.64" y1="135.92" x2="484.24" y2="135.92" stroke="#000" stroke-width="0.95"/>
<circle cx="480.44" cy="120.65" r="1.45"/>
<circle cx="480.11" cy="124.96" r="1.45"/>
<circle cx="480.77" cy="129.28" r="1.45"/>
<circle cx="479.93" cy="136.58" r="1.45"/>
<line x1="503.61" y1="117.99" x2="503.61" y2="136.58" stroke="#000" stroke-width="0.95"/>
<line x1="499.81" y1="117.99" x2="507.41" y2="117.99" stroke="#000" stroke-width="0.95"/>
<line x1="499.81" y1="136.58" x2="507.41" y2="136.58" stroke="#000" stroke-width="0.95"/>
<circle cx="503.61" cy="118.66" r="1.45"/>
<circle cx="500.81" cy="124.96" r="1.45"/>
<circle cx="506.21" cy="125.3" r="1.45"/>
<circle cx="503.61" cy="141.23" r="1.45"/>
<text x="434" y="191.7" font-size="5.4" text-anchor="middle" font-weight="bold">DN</text>
<text x="457.4" y="191.7" font-size="5.4" text-anchor="middle" font-weight="bold">CD49b SP</text>
<text x="480.5" y="191.7" font-size="5.4" text-anchor="middle" font-weight="bold">DP</text>
<text x="504" y="191.7" font-size="5.4" text-anchor="middle" font-weight="bold">CD49a SP</text>
<text x="403.5" y="149.5" font-size="5.9" text-anchor="middle" font-weight="bold" transform="rotate(-90 403.5 149.5)">% NUR77<tspan dy="-1.9" font-size="4.2">+</tspan><tspan dy="1.9"> </tspan>CD8 TIL</text>
<text x="3.6" y="215.3" font-size="11.6" text-anchor="start" font-weight="bold" stroke-width="0.5">E</text>
<line x1="54.7" y1="227.5" x2="54.7" y2="293.75" stroke="#2a2a2a" stroke-width="0.9" stroke-dasharray="1.6 1.5"/>
<line x1="78.3" y1="227.5" x2="78.3" y2="293.75" stroke="#2a2a2a" stroke-width="0.9" stroke-dasharray="1.6 1.5"/>
<line x1="102.5" y1="227.5" x2="102.5" y2="293.75" stroke="#2a2a2a" stroke-width="0.9" stroke-dasharray="1.6 1.5"/>
<rect x="32.8" y="260.62" width="8" height="33.12" fill="#1a1af0" stroke="#000" stroke-width="1.05"/>
<rect x="44.7" y="260.62" width="8" height="33.12" fill="#1a1af0" stroke="#000" stroke-width="1.05"/>
<rect x="56.6" y="251.68" width="8" height="42.07" fill="#ff8206" stroke="#000" stroke-width="1.05"/>
<rect x="68.5" y="252.34" width="8" height="41.41" fill="#ff8206" stroke="#000" stroke-width="1.05"/>
<rect x="80.4" y="264.93" width="8" height="28.82" fill="#c814c8" stroke="#000" stroke-width="1.05"/>
<rect x="92.3" y="266.59" width="8" height="27.16" fill="#c814c8" stroke="#000" stroke-width="1.05"/>
<rect x="104.2" y="267.25" width="8" height="26.5" fill="#14c014" stroke="#000" stroke-width="1.05"/>
<rect x="116.1" y="267.91" width="8" height="25.84" fill="#14c014" stroke="#000" stroke-width="1.05"/>
<line x1="28.5" y1="227" x2="28.5" y2="294.25" stroke="#000" stroke-width="1"/>
<line x1="28" y1="293.75" x2="128.4" y2="293.75" stroke="#000" stroke-width="1"/>
<line x1="26.1" y1="227.5" x2="28.5" y2="227.5" stroke="#000" stroke-width="0.9"/>
<text x="25.5" y="229.2" font-size="4.8" text-anchor="end" font-weight="bold">2.0</text>
<line x1="26.1" y1="244.1" x2="28.5" y2="244.1" stroke="#000" stroke-width="0.9"/>
<text x="25.5" y="245.8" font-size="4.8" text-anchor="end" font-weight="bold">1.5</text>
<line x1="26.1" y1="260.6" x2="28.5" y2="260.6" stroke="#000" stroke-width="0.9"/>
<text x="25.5" y="262.3" font-size="4.8" text-anchor="end" font-weight="bold">1.0</text>
<line x1="26.1" y1="277.2" x2="28.5" y2="277.2" stroke="#000" stroke-width="0.9"/>
<text x="25.5" y="278.9" font-size="4.8" text-anchor="end" font-weight="bold">0.5</text>
<line x1="26.1" y1="293.75" x2="28.5" y2="293.75" stroke="#000" stroke-width="0.9"/>
<text x="25.5" y="295.45" font-size="4.8" text-anchor="end" font-weight="bold">0.0</text>
<line x1="36.8" y1="293.75" x2="36.8" y2="295.75" stroke="#000" stroke-width="0.9"/>
<line x1="48.7" y1="293.75" x2="48.7" y2="295.75" stroke="#000" stroke-width="0.9"/>
<line x1="60.6" y1="293.75" x2="60.6" y2="295.75" stroke="#000" stroke-width="0.9"/>
<line x1="72.5" y1="293.75" x2="72.5" y2="295.75" stroke="#000" stroke-width="0.9"/>
<line x1="84.4" y1="293.75" x2="84.4" y2="295.75" stroke="#000" stroke-width="0.9"/>
<line x1="96.3" y1="293.75" x2="96.3" y2="295.75" stroke="#000" stroke-width="0.9"/>
<line x1="108.2" y1="293.75" x2="108.2" y2="295.75" stroke="#000" stroke-width="0.9"/>
<line x1="120.1" y1="293.75" x2="120.1" y2="295.75" stroke="#000" stroke-width="0.9"/>
<text x="38.5" y="300.4" font-size="5.1" text-anchor="end" font-weight="bold" transform="rotate(-45 38.5 300.4)">IgG</text>
<text x="50.4" y="300.4" font-size="5.1" text-anchor="end" font-weight="bold" transform="rotate(-45 50.4 300.4)">CBI</text>
<line x1="60.6" y1="241.74" x2="60.6" y2="261.62" stroke="#000" stroke-width="0.95"/>
<line x1="58.4" y1="241.74" x2="62.8" y2="241.74" stroke="#000" stroke-width="0.95"/>
<line x1="58.4" y1="261.62" x2="62.8" y2="261.62" stroke="#000" stroke-width="0.95"/>
<circle cx="60.6" cy="230.15" r="1.45"/>
<circle cx="58.95" cy="250.03" r="1.45"/>
<circle cx="62.25" cy="251.35" r="1.45"/>
<circle cx="58.05" cy="253.34" r="1.45"/>
<circle cx="63.15" cy="254.99" r="1.45"/>
<circle cx="59.7" cy="256.65" r="1.45"/>
<circle cx="61.5" cy="258.64" r="1.45"/>
<text x="62.3" y="300.4" font-size="5.1" text-anchor="end" font-weight="bold" transform="rotate(-45 62.3 300.4)">IgG</text>
<line x1="72.5" y1="243.4" x2="72.5" y2="261.29" stroke="#000" stroke-width="0.95"/>
<line x1="70.3" y1="243.4" x2="74.7" y2="243.4" stroke="#000" stroke-width="0.95"/>
<line x1="70.3" y1="261.29" x2="74.7" y2="261.29" stroke="#000" stroke-width="0.95"/>
<circle cx="70.3" cy="240.09" r="1.45"/>
<circle cx="73.3" cy="244.06" r="1.45"/>
<circle cx="74.15" cy="250.69" r="1.45"/>
<circle cx="69.95" cy="253.34" r="1.45"/>
<circle cx="75.05" cy="254.99" r="1.45"/>
<circle cx="71.6" cy="256.65" r="1.45"/>
<circle cx="73.4" cy="259.3" r="1.45"/>
<text x="74.2" y="300.4" font-size="5.1" text-anchor="end" font-weight="bold" transform="rotate(-45 74.2 300.4)">CBI</text>
<line x1="84.4" y1="256.65" x2="84.4" y2="273.21" stroke="#000" stroke-width="0.95"/>
<line x1="82.2" y1="256.65" x2="86.6" y2="256.65" stroke="#000" stroke-width="0.95"/>
<line x1="82.2" y1="273.21" x2="86.6" y2="273.21" stroke="#000" stroke-width="0.95"/>
<circle cx="84.4" cy="246.71" r="1.45"/>
<circle cx="82.75" cy="263.94" r="1.45"/>
<circle cx="86.05" cy="265.59" r="1.45"/>
<circle cx="81.85" cy="267.25" r="1.45"/>
<circle cx="86.95" cy="268.91" r="1.45"/>
<circle cx="83.5" cy="270.56" r="1.45"/>
<circle cx="85.3" cy="272.22" r="1.45"/>
<text x="86.1" y="300.4" font-size="5.1" text-anchor="end" font-weight="bold" transform="rotate(-45 86.1 300.4)">IgG</text>
<line x1="96.3" y1="259.3" x2="96.3" y2="273.88" stroke="#000" stroke-width="0.95"/>
<line x1="94.1" y1="259.3" x2="98.5" y2="259.3" stroke="#000" stroke-width="0.95"/>
<line x1="94.1" y1="273.88" x2="98.5" y2="273.88" stroke="#000" stroke-width="0.95"/>
<circle cx="96.3" cy="251.35" r="1.45"/>
<circle cx="94.65" cy="263.94" r="1.45"/>
<circle cx="97.95" cy="267.25" r="1.45"/>
<circle cx="93.75" cy="268.91" r="1.45"/>
<circle cx="98.85" cy="270.56" r="1.45"/>
<circle cx="95.4" cy="271.23" r="1.45"/>
<circle cx="97.2" cy="273.88" r="1.45"/>
<text x="98" y="300.4" font-size="5.1" text-anchor="end" font-weight="bold" transform="rotate(-45 98 300.4)">CBI</text>
<line x1="108.2" y1="261.62" x2="108.2" y2="272.88" stroke="#000" stroke-width="0.95"/>
<line x1="106" y1="261.62" x2="110.4" y2="261.62" stroke="#000" stroke-width="0.95"/>
<line x1="106" y1="272.88" x2="110.4" y2="272.88" stroke="#000" stroke-width="0.95"/>
<circle cx="108.2" cy="256.65" r="1.45"/>
<circle cx="106.55" cy="263.94" r="1.45"/>
<circle cx="109.85" cy="267.25" r="1.45"/>
<circle cx="105.65" cy="268.91" r="1.45"/>
<circle cx="110.75" cy="270.56" r="1.45"/>
<circle cx="107.3" cy="272.22" r="1.45"/>
<circle cx="109.1" cy="273.88" r="1.45"/>
<text x="109.9" y="300.4" font-size="5.1" text-anchor="end" font-weight="bold" transform="rotate(-45 109.9 300.4)">IgG</text>
<line x1="120.1" y1="263.27" x2="120.1" y2="272.55" stroke="#000" stroke-width="0.95"/>
<line x1="117.9" y1="263.27" x2="122.3" y2="263.27" stroke="#000" stroke-width="0.95"/>
<line x1="117.9" y1="272.55" x2="122.3" y2="272.55" stroke="#000" stroke-width="0.95"/>
<circle cx="120.1" cy="258.97" r="1.45"/>
<circle cx="118.45" cy="265.59" r="1.45"/>
<circle cx="121.75" cy="267.25" r="1.45"/>
<circle cx="117.55" cy="268.91" r="1.45"/>
<circle cx="122.65" cy="270.56" r="1.45"/>
<circle cx="119.2" cy="273.88" r="1.45"/>
<circle cx="121" cy="275.53" r="1.45"/>
<text x="121.8" y="300.4" font-size="5.1" text-anchor="end" font-weight="bold" transform="rotate(-45 121.8 300.4)">CBI</text>
<line x1="32.4" y1="260.32" x2="41.2" y2="260.32" stroke="#000" stroke-width="1.5"/>
<line x1="44.3" y1="260.32" x2="53.1" y2="260.32" stroke="#000" stroke-width="1.5"/>
<text x="6.5" y="261.5" font-size="6.05" text-anchor="middle" font-weight="bold" transform="rotate(-90 6.5 261.5)">Nur77 gMFI</text>
<text x="12.8" y="261.2" font-size="5.85" text-anchor="middle" font-weight="bold" transform="rotate(-90 12.8 261.2)">(normalized to DN subset)</text>
<line x1="48" y1="221.25" x2="123" y2="221.25" stroke="#000" stroke-width="1.1"/>
<text x="85.4" y="222.75" font-size="7.2" text-anchor="middle" font-weight="bold" stroke-width="0.3">*</text>
<line x1="61.25" y1="226.5" x2="112" y2="226.5" stroke="#000" stroke-width="1.1"/>
<text x="85.8" y="228" font-size="7.2" text-anchor="middle" font-weight="bold" stroke-width="0.3">**</text>
<line x1="72.5" y1="230.6" x2="123" y2="230.6" stroke="#000" stroke-width="1.1"/>
<text x="98" y="232.1" font-size="7.2" text-anchor="middle" font-weight="bold" stroke-width="0.3">***</text>
<line x1="61.25" y1="234.4" x2="86.25" y2="234.4" stroke="#000" stroke-width="1.1"/>
<text x="72.5" y="235.9" font-size="7.2" text-anchor="middle" font-weight="bold" stroke-width="0.3">****</text>
<line x1="72.4" y1="238.3" x2="97.5" y2="238.3" stroke="#000" stroke-width="1.1"/>
<text x="85" y="239.8" font-size="7.2" text-anchor="middle" font-weight="bold" stroke-width="0.3">**</text>
<line x1="178.4" y1="228.1" x2="178.4" y2="293.75" stroke="#2a2a2a" stroke-width="0.9" stroke-dasharray="1.6 1.5"/>
<line x1="202" y1="228.1" x2="202" y2="293.75" stroke="#2a2a2a" stroke-width="0.9" stroke-dasharray="1.6 1.5"/>
<line x1="226" y1="228.1" x2="226" y2="293.75" stroke="#2a2a2a" stroke-width="0.9" stroke-dasharray="1.6 1.5"/>
<rect x="156.9" y="262.89" width="8" height="30.86" fill="#1a1af0" stroke="#000" stroke-width="1.05"/>
<rect x="168.7" y="260.93" width="8" height="32.82" fill="#1a1af0" stroke="#000" stroke-width="1.05"/>
<rect x="180.5" y="258.3" width="8" height="35.45" fill="#ff8206" stroke="#000" stroke-width="1.05"/>
<rect x="192.3" y="256.99" width="8" height="36.76" fill="#ff8206" stroke="#000" stroke-width="1.05"/>
<rect x="204.1" y="268.15" width="8" height="25.6" fill="#c814c8" stroke="#000" stroke-width="1.05"/>
<rect x="215.9" y="264.86" width="8" height="28.89" fill="#c814c8" stroke="#000" stroke-width="1.05"/>
<rect x="227.7" y="268.15" width="8" height="25.6" fill="#14c014" stroke="#000" stroke-width="1.05"/>
<rect x="239.5" y="267.49" width="8" height="26.26" fill="#14c014" stroke="#000" stroke-width="1.05"/>
<line x1="152.6" y1="227.6" x2="152.6" y2="294.25" stroke="#000" stroke-width="1"/>
<line x1="152.1" y1="293.75" x2="251.6" y2="293.75" stroke="#000" stroke-width="1"/>
<line x1="150.2" y1="228.1" x2="152.6" y2="228.1" stroke="#000" stroke-width="0.9"/>
<text x="149.6" y="229.8" font-size="4.8" text-anchor="end" font-weight="bold">100</text>
<line x1="150.2" y1="241.23" x2="152.6" y2="241.23" stroke="#000" stroke-width="0.9"/>
<text x="149.6" y="242.93" font-size="4.8" text-anchor="end" font-weight="bold">80</text>
<line x1="150.2" y1="254.36" x2="152.6" y2="254.36" stroke="#000" stroke-width="0.9"/>
<text x="149.6" y="256.06" font-size="4.8" text-anchor="end" font-weight="bold">60</text>
<line x1="150.2" y1="267.49" x2="152.6" y2="267.49" stroke="#000" stroke-width="0.9"/>
<text x="149.6" y="269.19" font-size="4.8" text-anchor="end" font-weight="bold">40</text>
<line x1="150.2" y1="280.62" x2="152.6" y2="280.62" stroke="#000" stroke-width="0.9"/>
<text x="149.6" y="282.32" font-size="4.8" text-anchor="end" font-weight="bold">20</text>
<line x1="150.2" y1="293.75" x2="152.6" y2="293.75" stroke="#000" stroke-width="0.9"/>
<text x="149.6" y="295.45" font-size="4.8" text-anchor="end" font-weight="bold">0</text>
<line x1="160.9" y1="293.75" x2="160.9" y2="295.75" stroke="#000" stroke-width="0.9"/>
<line x1="172.7" y1="293.75" x2="172.7" y2="295.75" stroke="#000" stroke-width="0.9"/>
<line x1="184.5" y1="293.75" x2="184.5" y2="295.75" stroke="#000" stroke-width="0.9"/>
<line x1="196.3" y1="293.75" x2="196.3" y2="295.75" stroke="#000" stroke-width="0.9"/>
<line x1="208.1" y1="293.75" x2="208.1" y2="295.75" stroke="#000" stroke-width="0.9"/>
<line x1="219.9" y1="293.75" x2="219.9" y2="295.75" stroke="#000" stroke-width="0.9"/>
<line x1="231.7" y1="293.75" x2="231.7" y2="295.75" stroke="#000" stroke-width="0.9"/>
<line x1="243.5" y1="293.75" x2="243.5" y2="295.75" stroke="#000" stroke-width="0.9"/>
<line x1="160.9" y1="253.05" x2="160.9" y2="272.74" stroke="#000" stroke-width="0.95"/>
<line x1="158.7" y1="253.05" x2="163.1" y2="253.05" stroke="#000" stroke-width="0.95"/>
<line x1="158.7" y1="272.74" x2="163.1" y2="272.74" stroke="#000" stroke-width="0.95"/>
<circle cx="160.9" cy="245.83" r="1.45"/>
<circle cx="163.4" cy="257.64" r="1.45"/>
<circle cx="158.4" cy="258.96" r="1.45"/>
<circle cx="158.35" cy="264.21" r="1.45"/>
<circle cx="163.45" cy="267.49" r="1.45"/>
<circle cx="160" cy="270.77" r="1.45"/>
<circle cx="161.8" cy="275.37" r="1.45"/>
<text x="162.7" y="300.5" font-size="5.1" text-anchor="end" font-weight="bold" transform="rotate(-45 162.7 300.5)">IgG</text>
<line x1="172.7" y1="250.42" x2="172.7" y2="271.43" stroke="#000" stroke-width="0.95"/>
<line x1="170.5" y1="250.42" x2="174.9" y2="250.42" stroke="#000" stroke-width="0.95"/>
<line x1="170.5" y1="271.43" x2="174.9" y2="271.43" stroke="#000" stroke-width="0.95"/>
<circle cx="172.7" cy="245.83" r="1.45"/>
<circle cx="172.7" cy="249.76" r="1.45"/>
<circle cx="172.7" cy="253.7" r="1.45"/>
<circle cx="170.15" cy="266.18" r="1.45"/>
<circle cx="175.25" cy="268.8" r="1.45"/>
<circle cx="171.8" cy="270.77" r="1.45"/>
<circle cx="173.6" cy="272.74" r="1.45"/>
<text x="174.5" y="300.5" font-size="5.1" text-anchor="end" font-weight="bold" transform="rotate(-45 174.5 300.5)">CBI</text>
<line x1="184.5" y1="249.76" x2="184.5" y2="266.83" stroke="#000" stroke-width="0.95"/>
<line x1="182.3" y1="249.76" x2="186.7" y2="249.76" stroke="#000" stroke-width="0.95"/>
<line x1="182.3" y1="266.83" x2="186.7" y2="266.83" stroke="#000" stroke-width="0.95"/>
<circle cx="184.5" cy="241.89" r="1.45"/>
<circle cx="181.9" cy="254.36" r="1.45"/>
<circle cx="186.5" cy="256.33" r="1.45"/>
<circle cx="181.95" cy="259.61" r="1.45"/>
<circle cx="187.05" cy="262.24" r="1.45"/>
<circle cx="183.6" cy="264.21" r="1.45"/>
<circle cx="185.4" cy="270.77" r="1.45"/>
<text x="186.3" y="300.5" font-size="5.1" text-anchor="end" font-weight="bold" transform="rotate(-45 186.3 300.5)">IgG</text>
<line x1="196.3" y1="246.48" x2="196.3" y2="267.49" stroke="#000" stroke-width="0.95"/>
<line x1="194.1" y1="246.48" x2="198.5" y2="246.48" stroke="#000" stroke-width="0.95"/>
<line x1="194.1" y1="267.49" x2="198.5" y2="267.49" stroke="#000" stroke-width="0.95"/>
<circle cx="193.6" cy="243.86" r="1.45"/>
<circle cx="199" cy="245.17" r="1.45"/>
<circle cx="196.3" cy="249.11" r="1.45"/>
<circle cx="193.75" cy="264.21" r="1.45"/>
<circle cx="198.85" cy="266.18" r="1.45"/>
<circle cx="195.4" cy="267.49" r="1.45"/>
<circle cx="197.2" cy="268.8" r="1.45"/>
<text x="198.1" y="300.5" font-size="5.1" text-anchor="end" font-weight="bold" transform="rotate(-45 198.1 300.5)">CBI</text>
<line x1="208.1" y1="260.27" x2="208.1" y2="276.02" stroke="#000" stroke-width="0.95"/>
<line x1="205.9" y1="260.27" x2="210.3" y2="260.27" stroke="#000" stroke-width="0.95"/>
<line x1="205.9" y1="276.02" x2="210.3" y2="276.02" stroke="#000" stroke-width="0.95"/>
<circle cx="208.1" cy="251.73" r="1.45"/>
<circle cx="210.7" cy="262.89" r="1.45"/>
<circle cx="206.1" cy="266.18" r="1.45"/>
<circle cx="205.55" cy="268.8" r="1.45"/>
<circle cx="210.65" cy="270.77" r="1.45"/>
<circle cx="207.2" cy="274.06" r="1.45"/>
<circle cx="209" cy="279.31" r="1.45"/>
<text x="209.9" y="300.5" font-size="5.1" text-anchor="end" font-weight="bold" transform="rotate(-45 209.9 300.5)">IgG</text>
<line x1="219.9" y1="252.39" x2="219.9" y2="277.34" stroke="#000" stroke-width="0.95"/>
<line x1="217.7" y1="252.39" x2="222.1" y2="252.39" stroke="#000" stroke-width="0.95"/>
<line x1="217.7" y1="277.34" x2="222.1" y2="277.34" stroke="#000" stroke-width="0.95"/>
<circle cx="217.3" cy="249.76" r="1.45"/>
<circle cx="222.3" cy="250.42" r="1.45"/>
<circle cx="219.9" cy="256.33" r="1.45"/>
<circle cx="217.35" cy="274.06" r="1.45"/>
<circle cx="222.45" cy="277.34" r="1.45"/>
<circle cx="219" cy="279.31" r="1.45"/>
<circle cx="220.8" cy="281.93" r="1.45"/>
<text x="221.7" y="300.5" font-size="5.1" text-anchor="end" font-weight="bold" transform="rotate(-45 221.7 300.5)">CBI</text>
<line x1="231.7" y1="259.61" x2="231.7" y2="276.68" stroke="#000" stroke-width="0.95"/>
<line x1="229.5" y1="259.61" x2="233.9" y2="259.61" stroke="#000" stroke-width="0.95"/>
<line x1="229.5" y1="276.68" x2="233.9" y2="276.68" stroke="#000" stroke-width="0.95"/>
<circle cx="231.7" cy="253.05" r="1.45"/>
<circle cx="234.1" cy="263.55" r="1.45"/>
<circle cx="229.7" cy="266.18" r="1.45"/>
<circle cx="229.15" cy="270.77" r="1.45"/>
<circle cx="234.25" cy="274.06" r="1.45"/>
<circle cx="230.8" cy="277.34" r="1.45"/>
<circle cx="232.6" cy="280.62" r="1.45"/>
<text x="233.5" y="300.5" font-size="5.1" text-anchor="end" font-weight="bold" transform="rotate(-45 233.5 300.5)">IgG</text>
<line x1="243.5" y1="256.99" x2="243.5" y2="277.99" stroke="#000" stroke-width="0.95"/>
<line x1="241.3" y1="256.99" x2="245.7" y2="256.99" stroke="#000" stroke-width="0.95"/>
<line x1="241.3" y1="277.99" x2="245.7" y2="277.99" stroke="#000" stroke-width="0.95"/>
<circle cx="240.9" cy="254.36" r="1.45"/>
<circle cx="246.1" cy="256.33" r="1.45"/>
<circle cx="243.5" cy="260.93" r="1.45"/>
<circle cx="240.95" cy="270.77" r="1.45"/>
<circle cx="246.05" cy="274.06" r="1.45"/>
<circle cx="242.6" cy="279.31" r="1.45"/>
<circle cx="244.4" cy="281.93" r="1.45"/>
<text x="245.3" y="300.5" font-size="5.1" text-anchor="end" font-weight="bold" transform="rotate(-45 245.3 300.5)">CBI</text>
<text x="138.2" y="260" font-size="6.15" text-anchor="middle" font-weight="bold" transform="rotate(-90 138.2 260)">% Nur77<tspan dy="-1.9" font-size="4.2">+</tspan><tspan dy="1.9"> </tspan>CD8 TIL</text>
<line x1="173.75" y1="221.2" x2="246.2" y2="221.2" stroke="#000" stroke-width="1.1"/>
<text x="209" y="222.7" font-size="7.2" text-anchor="middle" font-weight="bold" stroke-width="0.3">*</text>
<line x1="160.25" y1="224.9" x2="232.5" y2="224.9" stroke="#000" stroke-width="1.1"/>
<text x="197.5" y="226.4" font-size="7.2" text-anchor="middle" font-weight="bold" stroke-width="0.3">*</text>
<line x1="184.4" y1="229.6" x2="234" y2="229.6" stroke="#000" stroke-width="1.1"/>
<text x="209.5" y="231.1" font-size="7.2" text-anchor="middle" font-weight="bold" stroke-width="0.3">***</text>
<line x1="195.6" y1="233.6" x2="245.6" y2="233.6" stroke="#000" stroke-width="1.1"/>
<text x="220" y="235.1" font-size="7.2" text-anchor="middle" font-weight="bold" stroke-width="0.3">****</text>
<line x1="184.4" y1="238.1" x2="209.4" y2="238.1" stroke="#000" stroke-width="1.1"/>
<text x="197.3" y="239.6" font-size="7.2" text-anchor="middle" font-weight="bold" stroke-width="0.3">****</text>
<line x1="195.6" y1="242.2" x2="220.6" y2="242.2" stroke="#000" stroke-width="1.1"/>
<text x="209.4" y="243.7" font-size="7.2" text-anchor="middle" font-weight="bold" stroke-width="0.3">**</text>
<text x="260.8" y="215.1" font-size="11.6" text-anchor="start" font-weight="bold" stroke-width="0.5">F</text>
<line x1="307.9" y1="223.1" x2="307.9" y2="292.5" stroke="#2a2a2a" stroke-width="0.9" stroke-dasharray="1.6 1.5"/>
<line x1="333.1" y1="223.1" x2="333.1" y2="292.5" stroke="#2a2a2a" stroke-width="0.9" stroke-dasharray="1.6 1.5"/>
<line x1="358.3" y1="223.1" x2="358.3" y2="292.5" stroke="#2a2a2a" stroke-width="0.9" stroke-dasharray="1.6 1.5"/>
<line x1="280.6" y1="222.6" x2="280.6" y2="293" stroke="#000" stroke-width="1"/>
<line x1="280.1" y1="292.5" x2="386.5" y2="292.5" stroke="#000" stroke-width="1"/>
<line x1="278.2" y1="223.1" x2="280.6" y2="223.1" stroke="#000" stroke-width="0.9"/>
<text x="277.6" y="224.8" font-size="4.8" text-anchor="end" font-weight="bold">100</text>
<line x1="278.2" y1="236.98" x2="280.6" y2="236.98" stroke="#000" stroke-width="0.9"/>
<text x="277.6" y="238.68" font-size="4.8" text-anchor="end" font-weight="bold">80</text>
<line x1="278.2" y1="250.86" x2="280.6" y2="250.86" stroke="#000" stroke-width="0.9"/>
<text x="277.6" y="252.56" font-size="4.8" text-anchor="end" font-weight="bold">60</text>
<line x1="278.2" y1="264.74" x2="280.6" y2="264.74" stroke="#000" stroke-width="0.9"/>
<text x="277.6" y="266.44" font-size="4.8" text-anchor="end" font-weight="bold">40</text>
<line x1="278.2" y1="278.62" x2="280.6" y2="278.62" stroke="#000" stroke-width="0.9"/>
<text x="277.6" y="280.32" font-size="4.8" text-anchor="end" font-weight="bold">20</text>
<line x1="278.2" y1="292.5" x2="280.6" y2="292.5" stroke="#000" stroke-width="0.9"/>
<text x="277.6" y="294.2" font-size="4.8" text-anchor="end" font-weight="bold">0</text>
<line x1="289.2" y1="292.5" x2="289.2" y2="294.5" stroke="#000" stroke-width="0.9"/>
<line x1="301.8" y1="292.5" x2="301.8" y2="294.5" stroke="#000" stroke-width="0.9"/>
<line x1="314.4" y1="292.5" x2="314.4" y2="294.5" stroke="#000" stroke-width="0.9"/>
<line x1="327" y1="292.5" x2="327" y2="294.5" stroke="#000" stroke-width="0.9"/>
<line x1="339.6" y1="292.5" x2="339.6" y2="294.5" stroke="#000" stroke-width="0.9"/>
<line x1="352.2" y1="292.5" x2="352.2" y2="294.5" stroke="#000" stroke-width="0.9"/>
<line x1="364.8" y1="292.5" x2="364.8" y2="294.5" stroke="#000" stroke-width="0.9"/>
<line x1="377.4" y1="292.5" x2="377.4" y2="294.5" stroke="#000" stroke-width="0.9"/>
<text x="290.9" y="300.3" font-size="5.1" text-anchor="end" font-weight="bold" transform="rotate(-45 290.9 300.3)">IgG</text>
<text x="303.5" y="300.3" font-size="5.1" text-anchor="end" font-weight="bold" transform="rotate(-45 303.5 300.3)">CBI</text>
<text x="316.1" y="300.3" font-size="5.1" text-anchor="end" font-weight="bold" transform="rotate(-45 316.1 300.3)">IgG</text>
<text x="328.7" y="300.3" font-size="5.1" text-anchor="end" font-weight="bold" transform="rotate(-45 328.7 300.3)">CBI</text>
<text x="341.3" y="300.3" font-size="5.1" text-anchor="end" font-weight="bold" transform="rotate(-45 341.3 300.3)">IgG</text>
<text x="353.9" y="300.3" font-size="5.1" text-anchor="end" font-weight="bold" transform="rotate(-45 353.9 300.3)">CBI</text>
<text x="366.5" y="300.3" font-size="5.1" text-anchor="end" font-weight="bold" transform="rotate(-45 366.5 300.3)">IgG</text>
<text x="379.1" y="300.3" font-size="5.1" text-anchor="end" font-weight="bold" transform="rotate(-45 379.1 300.3)">CBI</text>
<line x1="284.6" y1="291.6" x2="293.8" y2="291.6" stroke="#000" stroke-width="2.6"/>
<circle cx="285.6" cy="291.81" r="1.5"/>
<circle cx="287.9" cy="291.53" r="1.5"/>
<circle cx="290.5" cy="291.53" r="1.5"/>
<circle cx="292.8" cy="291.81" r="1.5"/>
<line x1="297.2" y1="291.6" x2="306.4" y2="291.6" stroke="#000" stroke-width="2.6"/>
<circle cx="298.2" cy="291.81" r="1.5"/>
<circle cx="300.5" cy="291.53" r="1.5"/>
<circle cx="303.1" cy="291.53" r="1.5"/>
<circle cx="305.4" cy="291.81" r="1.5"/>
<circle cx="302.1" cy="288.2" r="1.5"/>
<circle cx="300.3" cy="289.86" r="1.5"/>
<circle cx="304.3" cy="290.28" r="1.5"/>
<line x1="309.8" y1="291.6" x2="319" y2="291.6" stroke="#000" stroke-width="2.6"/>
<circle cx="310.8" cy="291.81" r="1.5"/>
<circle cx="313.1" cy="291.53" r="1.5"/>
<circle cx="315.7" cy="291.53" r="1.5"/>
<circle cx="318" cy="291.81" r="1.5"/>
<line x1="322.4" y1="291.6" x2="331.6" y2="291.6" stroke="#000" stroke-width="2.6"/>
<circle cx="323.4" cy="291.81" r="1.5"/>
<circle cx="325.7" cy="291.53" r="1.5"/>
<circle cx="328.3" cy="291.53" r="1.5"/>
<circle cx="330.6" cy="291.81" r="1.5"/>
<circle cx="327.5" cy="290.7" r="1.5"/>
<line x1="335" y1="291.6" x2="344.2" y2="291.6" stroke="#000" stroke-width="2.6"/>
<circle cx="336" cy="291.81" r="1.5"/>
<circle cx="338.3" cy="291.53" r="1.5"/>
<circle cx="340.9" cy="291.53" r="1.5"/>
<circle cx="343.2" cy="291.81" r="1.5"/>
<line x1="347.6" y1="291.6" x2="356.8" y2="291.6" stroke="#000" stroke-width="2.6"/>
<circle cx="348.6" cy="291.81" r="1.5"/>
<circle cx="350.9" cy="291.53" r="1.5"/>
<circle cx="353.5" cy="291.53" r="1.5"/>
<circle cx="355.8" cy="291.81" r="1.5"/>
<circle cx="352.7" cy="285.56" r="1.5"/>
<circle cx="350.9" cy="289.72" r="1.5"/>
<circle cx="354.2" cy="290" r="1.5"/>
<line x1="360.2" y1="291.6" x2="369.4" y2="291.6" stroke="#000" stroke-width="2.6"/>
<circle cx="361.2" cy="291.81" r="1.5"/>
<circle cx="363.5" cy="291.53" r="1.5"/>
<circle cx="366.1" cy="291.53" r="1.5"/>
<circle cx="368.4" cy="291.81" r="1.5"/>
<circle cx="364.8" cy="289.86" r="1.5"/>
<circle cx="362.8" cy="290.42" r="1.5"/>
<line x1="372.8" y1="291.6" x2="382" y2="291.6" stroke="#000" stroke-width="2.6"/>
<circle cx="373.8" cy="291.81" r="1.5"/>
<circle cx="376.1" cy="291.53" r="1.5"/>
<circle cx="378.7" cy="291.53" r="1.5"/>
<circle cx="381" cy="291.81" r="1.5"/>
<circle cx="377.7" cy="284.87" r="1.5"/>
<circle cx="377.4" cy="288.34" r="1.5"/>
<circle cx="375.6" cy="289.86" r="1.5"/>
<circle cx="379.4" cy="289.86" r="1.5"/>
<text x="265" y="258" font-size="5.9" text-anchor="middle" font-weight="bold" transform="rotate(-90 265 258)">% IFN&#947;<tspan dy="-1.9" font-size="4.2">+</tspan><tspan dy="1.9"> </tspan>CD8 TIL</text>
<line x1="441.5" y1="223.1" x2="441.5" y2="292.5" stroke="#2a2a2a" stroke-width="0.9" stroke-dasharray="1.6 1.5"/>
<line x1="466.8" y1="223.1" x2="466.8" y2="292.5" stroke="#2a2a2a" stroke-width="0.9" stroke-dasharray="1.6 1.5"/>
<line x1="492" y1="223.1" x2="492" y2="292.5" stroke="#2a2a2a" stroke-width="0.9" stroke-dasharray="1.6 1.5"/>
<line x1="414" y1="222.6" x2="414" y2="293" stroke="#000" stroke-width="1"/>
<line x1="413.5" y1="292.5" x2="520" y2="292.5" stroke="#000" stroke-width="1"/>
<line x1="411.6" y1="223.1" x2="414" y2="223.1" stroke="#000" stroke-width="0.9"/>
<text x="411" y="224.8" font-size="4.8" text-anchor="end" font-weight="bold">100</text>
<line x1="411.6" y1="236.98" x2="414" y2="236.98" stroke="#000" stroke-width="0.9"/>
<text x="411" y="238.68" font-size="4.8" text-anchor="end" font-weight="bold">80</text>
<line x1="411.6" y1="250.86" x2="414" y2="250.86" stroke="#000" stroke-width="0.9"/>
<text x="411" y="252.56" font-size="4.8" text-anchor="end" font-weight="bold">60</text>
<line x1="411.6" y1="264.74" x2="414" y2="264.74" stroke="#000" stroke-width="0.9"/>
<text x="411" y="266.44" font-size="4.8" text-anchor="end" font-weight="bold">40</text>
<line x1="411.6" y1="278.62" x2="414" y2="278.62" stroke="#000" stroke-width="0.9"/>
<text x="411" y="280.32" font-size="4.8" text-anchor="end" font-weight="bold">20</text>
<line x1="411.6" y1="292.5" x2="414" y2="292.5" stroke="#000" stroke-width="0.9"/>
<text x="411" y="294.2" font-size="4.8" text-anchor="end" font-weight="bold">0</text>
<line x1="422.5" y1="292.5" x2="422.5" y2="294.5" stroke="#000" stroke-width="0.9"/>
<line x1="435.15" y1="292.5" x2="435.15" y2="294.5" stroke="#000" stroke-width="0.9"/>
<line x1="447.8" y1="292.5" x2="447.8" y2="294.5" stroke="#000" stroke-width="0.9"/>
<line x1="460.45" y1="292.5" x2="460.45" y2="294.5" stroke="#000" stroke-width="0.9"/>
<line x1="473.1" y1="292.5" x2="473.1" y2="294.5" stroke="#000" stroke-width="0.9"/>
<line x1="485.75" y1="292.5" x2="485.75" y2="294.5" stroke="#000" stroke-width="0.9"/>
<line x1="498.4" y1="292.5" x2="498.4" y2="294.5" stroke="#000" stroke-width="0.9"/>
<line x1="511.05" y1="292.5" x2="511.05" y2="294.5" stroke="#000" stroke-width="0.9"/>
<text x="424.2" y="300.3" font-size="5.1" text-anchor="end" font-weight="bold" transform="rotate(-45 424.2 300.3)">IgG</text>
<text x="436.85" y="300.3" font-size="5.1" text-anchor="end" font-weight="bold" transform="rotate(-45 436.85 300.3)">CBI</text>
<text x="449.5" y="300.3" font-size="5.1" text-anchor="end" font-weight="bold" transform="rotate(-45 449.5 300.3)">IgG</text>
<text x="462.15" y="300.3" font-size="5.1" text-anchor="end" font-weight="bold" transform="rotate(-45 462.15 300.3)">CBI</text>
<text x="474.8" y="300.3" font-size="5.1" text-anchor="end" font-weight="bold" transform="rotate(-45 474.8 300.3)">IgG</text>
<text x="487.45" y="300.3" font-size="5.1" text-anchor="end" font-weight="bold" transform="rotate(-45 487.45 300.3)">CBI</text>
<text x="500.1" y="300.3" font-size="5.1" text-anchor="end" font-weight="bold" transform="rotate(-45 500.1 300.3)">IgG</text>
<text x="512.75" y="300.3" font-size="5.1" text-anchor="end" font-weight="bold" transform="rotate(-45 512.75 300.3)">CBI</text>
<line x1="417.9" y1="291.6" x2="427.1" y2="291.6" stroke="#000" stroke-width="2.6"/>
<circle cx="418.9" cy="291.88" r="1.5"/>
<circle cx="421.2" cy="291.6" r="1.5"/>
<circle cx="423.8" cy="291.74" r="1.5"/>
<circle cx="426.1" cy="291.88" r="1.5"/>
<circle cx="420.3" cy="290.63" r="1.5"/>
<circle cx="424.1" cy="290.49" r="1.5"/>
<circle cx="422.5" cy="285.56" r="1.5"/>
<circle cx="421" cy="289.03" r="1.5"/>
<circle cx="424" cy="289.38" r="1.5"/>
<line x1="430.55" y1="291.6" x2="439.75" y2="291.6" stroke="#000" stroke-width="2.6"/>
<circle cx="431.55" cy="291.88" r="1.5"/>
<circle cx="433.85" cy="291.6" r="1.5"/>
<circle cx="436.45" cy="291.74" r="1.5"/>
<circle cx="438.75" cy="291.88" r="1.5"/>
<circle cx="432.95" cy="290.63" r="1.5"/>
<circle cx="436.75" cy="290.49" r="1.5"/>
<circle cx="435.45" cy="288.34" r="1.5"/>
<circle cx="434.15" cy="290.07" r="1.5"/>
<line x1="443.2" y1="291.6" x2="452.4" y2="291.6" stroke="#000" stroke-width="2.6"/>
<circle cx="444.2" cy="291.88" r="1.5"/>
<circle cx="446.5" cy="291.6" r="1.5"/>
<circle cx="449.1" cy="291.74" r="1.5"/>
<circle cx="451.4" cy="291.88" r="1.5"/>
<circle cx="445.6" cy="290.63" r="1.5"/>
<circle cx="449.4" cy="290.49" r="1.5"/>
<circle cx="448.1" cy="287.99" r="1.5"/>
<circle cx="446.3" cy="289.72" r="1.5"/>
<circle cx="449.6" cy="289.72" r="1.5"/>
<line x1="455.85" y1="291.6" x2="465.05" y2="291.6" stroke="#000" stroke-width="2.6"/>
<circle cx="456.85" cy="291.88" r="1.5"/>
<circle cx="459.15" cy="291.6" r="1.5"/>
<circle cx="461.75" cy="291.74" r="1.5"/>
<circle cx="464.05" cy="291.88" r="1.5"/>
<circle cx="458.25" cy="290.63" r="1.5"/>
<circle cx="462.05" cy="290.49" r="1.5"/>
<circle cx="460.45" cy="289.17" r="1.5"/>
<line x1="468.5" y1="291.6" x2="477.7" y2="291.6" stroke="#000" stroke-width="2.6"/>
<circle cx="469.5" cy="291.88" r="1.5"/>
<circle cx="471.8" cy="291.6" r="1.5"/>
<circle cx="474.4" cy="291.74" r="1.5"/>
<circle cx="476.7" cy="291.88" r="1.5"/>
<circle cx="470.9" cy="290.63" r="1.5"/>
<circle cx="474.7" cy="290.49" r="1.5"/>
<circle cx="473.6" cy="283.13" r="1.5"/>
<circle cx="472.1" cy="286.6" r="1.5"/>
<circle cx="474.6" cy="288.34" r="1.5"/>
<circle cx="470.6" cy="289.03" r="1.5"/>
<circle cx="476.1" cy="289.38" r="1.5"/>
<line x1="481.15" y1="291.6" x2="490.35" y2="291.6" stroke="#000" stroke-width="2.6"/>
<circle cx="482.15" cy="291.88" r="1.5"/>
<circle cx="484.45" cy="291.6" r="1.5"/>
<circle cx="487.05" cy="291.74" r="1.5"/>
<circle cx="489.35" cy="291.88" r="1.5"/>
<circle cx="483.55" cy="290.63" r="1.5"/>
<circle cx="487.35" cy="290.49" r="1.5"/>
<circle cx="485.75" cy="264.05" r="1.5"/>
<circle cx="485.75" cy="288.68" r="1.5"/>
<line x1="493.8" y1="291.6" x2="503" y2="291.6" stroke="#000" stroke-width="2.6"/>
<circle cx="494.8" cy="291.88" r="1.5"/>
<circle cx="497.1" cy="291.6" r="1.5"/>
<circle cx="499.7" cy="291.74" r="1.5"/>
<circle cx="502" cy="291.88" r="1.5"/>
<circle cx="496.2" cy="290.63" r="1.5"/>
<circle cx="500" cy="290.49" r="1.5"/>
<circle cx="498.9" cy="287.3" r="1.5"/>
<circle cx="496.6" cy="288.34" r="1.5"/>
<circle cx="500.8" cy="289.03" r="1.5"/>
<circle cx="498.4" cy="289.72" r="1.5"/>
<line x1="506.45" y1="291.6" x2="515.65" y2="291.6" stroke="#000" stroke-width="2.6"/>
<circle cx="507.45" cy="291.88" r="1.5"/>
<circle cx="509.75" cy="291.6" r="1.5"/>
<circle cx="512.35" cy="291.74" r="1.5"/>
<circle cx="514.65" cy="291.88" r="1.5"/>
<circle cx="508.85" cy="290.63" r="1.5"/>
<circle cx="512.65" cy="290.49" r="1.5"/>
<circle cx="511.05" cy="271.68" r="1.5"/>
<circle cx="511.05" cy="289.38" r="1.5"/>
<line x1="485.75" y1="281.4" x2="485.75" y2="292.5" stroke="#000" stroke-width="1.2"/>
<line x1="483.25" y1="281.4" x2="488.25" y2="281.4" stroke="#000" stroke-width="1.2"/>
<line x1="483.25" y1="292.5" x2="488.25" y2="292.5" stroke="#000" stroke-width="1.2"/>
<line x1="511.05" y1="284.52" x2="511.05" y2="292.5" stroke="#000" stroke-width="1.2"/>
<line x1="508.55" y1="284.52" x2="513.55" y2="284.52" stroke="#000" stroke-width="1.2"/>
<line x1="508.55" y1="292.5" x2="513.55" y2="292.5" stroke="#000" stroke-width="1.2"/>
<text x="398.6" y="257.5" font-size="5.9" text-anchor="middle" font-weight="bold" transform="rotate(-90 398.6 257.5)">% TNF&#945;<tspan dy="-1.9" font-size="4.2">+</tspan><tspan dy="1.9"> </tspan>CD8 TIL</text>
<text x="3" y="330.8" font-size="11.6" text-anchor="start" font-weight="bold" stroke-width="0.5">G</text>
<rect x="37.75" y="384.46" width="15.4" height="28.94" fill="#1a1af0" stroke="#000" stroke-width="0.9"/>
<rect x="60.95" y="381.77" width="15.4" height="31.63" fill="#ff8206" stroke="#000" stroke-width="0.9"/>
<rect x="84.15" y="363.6" width="15.4" height="49.8" fill="#c814c8" stroke="#000" stroke-width="0.9"/>
<rect x="107.35" y="365.62" width="15.4" height="47.78" fill="#14c014" stroke="#000" stroke-width="0.9"/>
<line x1="30.6" y1="345.6" x2="30.6" y2="413.9" stroke="#000" stroke-width="1"/>
<line x1="30.1" y1="413.4" x2="129.9" y2="413.4" stroke="#000" stroke-width="1"/>
<line x1="27.6" y1="346.1" x2="30.6" y2="346.1" stroke="#000" stroke-width="0.9"/>
<text x="26.7" y="347.8" font-size="4.8" text-anchor="end" font-weight="bold">100</text>
<line x1="27.6" y1="359.56" x2="30.6" y2="359.56" stroke="#000" stroke-width="0.9"/>
<text x="26.7" y="361.26" font-size="4.8" text-anchor="end" font-weight="bold">80</text>
<line x1="27.6" y1="373.02" x2="30.6" y2="373.02" stroke="#000" stroke-width="0.9"/>
<text x="26.7" y="374.72" font-size="4.8" text-anchor="end" font-weight="bold">60</text>
<line x1="27.6" y1="386.48" x2="30.6" y2="386.48" stroke="#000" stroke-width="0.9"/>
<text x="26.7" y="388.18" font-size="4.8" text-anchor="end" font-weight="bold">40</text>
<line x1="27.6" y1="399.94" x2="30.6" y2="399.94" stroke="#000" stroke-width="0.9"/>
<text x="26.7" y="401.64" font-size="4.8" text-anchor="end" font-weight="bold">20</text>
<line x1="27.6" y1="413.4" x2="30.6" y2="413.4" stroke="#000" stroke-width="0.9"/>
<text x="26.7" y="415.1" font-size="4.8" text-anchor="end" font-weight="bold">0</text>
<line x1="45.45" y1="413.4" x2="45.45" y2="415.4" stroke="#000" stroke-width="0.9"/>
<line x1="68.65" y1="413.4" x2="68.65" y2="415.4" stroke="#000" stroke-width="0.9"/>
<line x1="91.85" y1="413.4" x2="91.85" y2="415.4" stroke="#000" stroke-width="0.9"/>
<line x1="115.05" y1="413.4" x2="115.05" y2="415.4" stroke="#000" stroke-width="0.9"/>
<line x1="45.45" y1="378.4" x2="45.45" y2="390.52" stroke="#000" stroke-width="0.95"/>
<line x1="41.65" y1="378.4" x2="49.25" y2="378.4" stroke="#000" stroke-width="0.95"/>
<line x1="41.65" y1="390.52" x2="49.25" y2="390.52" stroke="#000" stroke-width="0.95"/>
<line x1="68.65" y1="375.04" x2="68.65" y2="388.5" stroke="#000" stroke-width="0.95"/>
<line x1="64.85" y1="375.04" x2="72.45" y2="375.04" stroke="#000" stroke-width="0.95"/>
<line x1="64.85" y1="388.5" x2="72.45" y2="388.5" stroke="#000" stroke-width="0.95"/>
<line x1="91.85" y1="356.87" x2="91.85" y2="370.33" stroke="#000" stroke-width="0.95"/>
<line x1="88.05" y1="356.87" x2="95.65" y2="356.87" stroke="#000" stroke-width="0.95"/>
<line x1="88.05" y1="370.33" x2="95.65" y2="370.33" stroke="#000" stroke-width="0.95"/>
<line x1="115.05" y1="358.89" x2="115.05" y2="372.35" stroke="#000" stroke-width="0.95"/>
<line x1="111.25" y1="358.89" x2="118.85" y2="358.89" stroke="#000" stroke-width="0.95"/>
<line x1="111.25" y1="372.35" x2="118.85" y2="372.35" stroke="#000" stroke-width="0.95"/>
<text x="45.6" y="421.8" font-size="5.2" text-anchor="middle" font-weight="bold">DN</text>
<text x="68.9" y="421.8" font-size="5.2" text-anchor="middle" font-weight="bold">CD49b SP</text>
<text x="92" y="421.8" font-size="5.2" text-anchor="middle" font-weight="bold">DP</text>
<text x="116" y="421.8" font-size="5.2" text-anchor="middle" font-weight="bold">CD49a SP</text>
<circle cx="42.5" cy="374.62" r="1.45"/>
<circle cx="48.85" cy="374.62" r="1.45"/>
<circle cx="45.77" cy="377.88" r="1.45"/>
<circle cx="51.73" cy="381.35" r="1.45"/>
<circle cx="40.58" cy="382.69" r="1.45"/>
<circle cx="43.46" cy="384.62" r="1.45"/>
<circle cx="47.69" cy="384.23" r="1.45"/>
<circle cx="41.92" cy="387.31" r="1.45"/>
<circle cx="49.23" cy="386.92" r="1.45"/>
<circle cx="45.38" cy="389.04" r="1.45"/>
<circle cx="45" cy="392.31" r="1.45"/>
<circle cx="45.77" cy="396.73" r="1.45"/>
<circle cx="62.69" cy="374.62" r="1.45"/>
<circle cx="68.46" cy="373.08" r="1.45"/>
<circle cx="73.08" cy="374.62" r="1.45"/>
<circle cx="63.65" cy="377.69" r="1.45"/>
<circle cx="75.19" cy="376.92" r="1.45"/>
<circle cx="65.77" cy="380.38" r="1.45"/>
<circle cx="71.54" cy="380" r="1.45"/>
<circle cx="68.46" cy="383.46" r="1.45"/>
<circle cx="68.46" cy="386.35" r="1.45"/>
<circle cx="70.38" cy="388.65" r="1.45"/>
<circle cx="66.54" cy="394.81" r="1.45"/>
<circle cx="70" cy="392.88" r="1.45"/>
<circle cx="67.69" cy="390.38" r="1.45"/>
<circle cx="90.58" cy="353.46" r="1.45"/>
<circle cx="94.42" cy="353.46" r="1.45"/>
<circle cx="89.62" cy="356.92" r="1.45"/>
<circle cx="94.42" cy="356.92" r="1.45"/>
<circle cx="85.19" cy="360.77" r="1.45"/>
<circle cx="90.77" cy="359.42" r="1.45"/>
<circle cx="98.27" cy="360.77" r="1.45"/>
<circle cx="86.15" cy="364.04" r="1.45"/>
<circle cx="90" cy="364.04" r="1.45"/>
<circle cx="94.42" cy="364.04" r="1.45"/>
<circle cx="98.27" cy="363.08" r="1.45"/>
<circle cx="91.54" cy="368.85" r="1.45"/>
<circle cx="92.69" cy="371.73" r="1.45"/>
<circle cx="91.92" cy="381.35" r="1.45"/>
<circle cx="112.69" cy="357.69" r="1.45"/>
<circle cx="117.5" cy="357.69" r="1.45"/>
<circle cx="115" cy="360.77" r="1.45"/>
<circle cx="109.81" cy="364.04" r="1.45"/>
<circle cx="114.62" cy="363.46" r="1.45"/>
<circle cx="119.42" cy="364.04" r="1.45"/>
<circle cx="122.31" cy="364.42" r="1.45"/>
<circle cx="111.73" cy="366.92" r="1.45"/>
<circle cx="117.69" cy="366.54" r="1.45"/>
<circle cx="115" cy="370.77" r="1.45"/>
<circle cx="115" cy="374.62" r="1.45"/>
<circle cx="115" cy="379.42" r="1.45"/>
<circle cx="115" cy="384.23" r="1.45"/>
<text x="13.4" y="378.7" font-size="5.9" text-anchor="middle" font-weight="bold" transform="rotate(-90 13.4 378.7)">% CD69<tspan dy="-1.9" font-size="4.2">+</tspan><tspan dy="1.9"> </tspan>CD8 TIL</text>
<line x1="46.9" y1="337.4" x2="91" y2="337.4" stroke="#000" stroke-width="1.1"/>
<text x="70.3" y="338.9" font-size="7.2" text-anchor="middle" font-weight="bold" stroke-width="0.3">****</text>
<line x1="46.9" y1="341.5" x2="115.4" y2="341.5" stroke="#000" stroke-width="1.1"/>
<text x="81" y="343" font-size="7.2" text-anchor="middle" font-weight="bold" stroke-width="0.3">****</text>
<line x1="71.2" y1="346" x2="115.4" y2="346" stroke="#000" stroke-width="1.1"/>
<text x="93.7" y="347.5" font-size="7.2" text-anchor="middle" font-weight="bold" stroke-width="0.3">****</text>
<line x1="71.2" y1="350.6" x2="93" y2="350.6" stroke="#000" stroke-width="1.1"/>
<text x="82.2" y="352.1" font-size="7.2" text-anchor="middle" font-weight="bold" stroke-width="0.3">****</text>
<text x="146" y="331.3" font-size="12.3" text-anchor="start" font-weight="bold" stroke-width="0.5">H</text>
<line x1="232.5" y1="339.4" x2="232.5" y2="412.9" stroke="#000" stroke-width="0.9" stroke-dasharray="1.6 1.5"/>
<line x1="285.3" y1="339.4" x2="285.3" y2="412.9" stroke="#000" stroke-width="0.9" stroke-dasharray="1.6 1.5"/>
<line x1="338.6" y1="339.4" x2="338.6" y2="412.9" stroke="#000" stroke-width="0.9" stroke-dasharray="1.6 1.5"/>
<rect x="183.2" y="387.17" width="18" height="25.73" fill="#1a1af0" stroke="#000" stroke-width="1.15"/>
<rect x="209.9" y="374.39" width="18" height="38.51" fill="#1a1af0" stroke="#000" stroke-width="1.15"/>
<rect x="236.6" y="386.44" width="18" height="26.46" fill="#ff8206" stroke="#000" stroke-width="1.15"/>
<rect x="263.3" y="367.33" width="18" height="45.57" fill="#ff8206" stroke="#000" stroke-width="1.15"/>
<rect x="290" y="392.47" width="18" height="20.43" fill="#c814c8" stroke="#000" stroke-width="1.15"/>
<rect x="316.7" y="389.53" width="18" height="23.37" fill="#c814c8" stroke="#000" stroke-width="1.15"/>
<rect x="343.4" y="393.5" width="18" height="19.4" fill="#14c014" stroke="#000" stroke-width="1.15"/>
<rect x="370.1" y="389.82" width="18" height="23.08" fill="#14c014" stroke="#000" stroke-width="1.15"/>
<line x1="174.4" y1="338.9" x2="174.4" y2="413.4" stroke="#000" stroke-width="1"/>
<line x1="173.9" y1="412.9" x2="396.3" y2="412.9" stroke="#000" stroke-width="1"/>
<line x1="171.8" y1="339.4" x2="174.4" y2="339.4" stroke="#000" stroke-width="0.9"/>
<text x="171.1" y="341.1" font-size="4.8" text-anchor="end" font-weight="bold">5</text>
<line x1="171.8" y1="354.1" x2="174.4" y2="354.1" stroke="#000" stroke-width="0.9"/>
<text x="171.1" y="355.8" font-size="4.8" text-anchor="end" font-weight="bold">4</text>
<line x1="171.8" y1="368.8" x2="174.4" y2="368.8" stroke="#000" stroke-width="0.9"/>
<text x="171.1" y="370.5" font-size="4.8" text-anchor="end" font-weight="bold">3</text>
<line x1="171.8" y1="383.5" x2="174.4" y2="383.5" stroke="#000" stroke-width="0.9"/>
<text x="171.1" y="385.2" font-size="4.8" text-anchor="end" font-weight="bold">2</text>
<line x1="171.8" y1="398.2" x2="174.4" y2="398.2" stroke="#000" stroke-width="0.9"/>
<text x="171.1" y="399.9" font-size="4.8" text-anchor="end" font-weight="bold">1</text>
<line x1="171.8" y1="412.9" x2="174.4" y2="412.9" stroke="#000" stroke-width="0.9"/>
<text x="171.1" y="414.6" font-size="4.8" text-anchor="end" font-weight="bold">0</text>
<line x1="192.2" y1="412.9" x2="192.2" y2="414.9" stroke="#000" stroke-width="0.9"/>
<line x1="218.9" y1="412.9" x2="218.9" y2="414.9" stroke="#000" stroke-width="0.9"/>
<line x1="245.6" y1="412.9" x2="245.6" y2="414.9" stroke="#000" stroke-width="0.9"/>
<line x1="272.3" y1="412.9" x2="272.3" y2="414.9" stroke="#000" stroke-width="0.9"/>
<line x1="299" y1="412.9" x2="299" y2="414.9" stroke="#000" stroke-width="0.9"/>
<line x1="325.7" y1="412.9" x2="325.7" y2="414.9" stroke="#000" stroke-width="0.9"/>
<line x1="352.4" y1="412.9" x2="352.4" y2="414.9" stroke="#000" stroke-width="0.9"/>
<line x1="379.1" y1="412.9" x2="379.1" y2="414.9" stroke="#000" stroke-width="0.9"/>
<line x1="192.2" y1="378.35" x2="192.2" y2="396" stroke="#000" stroke-width="1.5"/>
<line x1="187.8" y1="378.35" x2="196.6" y2="378.35" stroke="#000" stroke-width="1.5"/>
<line x1="187.8" y1="396" x2="196.6" y2="396" stroke="#000" stroke-width="1.5"/>
<circle cx="192.2" cy="369.83" r="1.6"/>
<circle cx="197.8" cy="381" r="1.6"/>
<circle cx="192.2" cy="384.23" r="1.6"/>
<circle cx="187.4" cy="392.91" r="1.6"/>
<circle cx="191.5" cy="390.41" r="1.6"/>
<circle cx="196.1" cy="391.14" r="1.6"/>
<circle cx="189" cy="394.52" r="1.6"/>
<text x="191.9" y="420.7" font-size="5" text-anchor="middle" font-weight="bold">CD69<tspan dy="-1.8" font-size="3.4">neg</tspan></text>
<line x1="218.9" y1="358.8" x2="218.9" y2="390.41" stroke="#000" stroke-width="1.5"/>
<line x1="214.5" y1="358.8" x2="223.3" y2="358.8" stroke="#000" stroke-width="1.5"/>
<line x1="214.5" y1="390.41" x2="223.3" y2="390.41" stroke="#000" stroke-width="1.5"/>
<circle cx="216.2" cy="352.92" r="1.6"/>
<circle cx="222" cy="352.92" r="1.6"/>
<circle cx="213.3" cy="383.35" r="1.6"/>
<circle cx="224.2" cy="383.35" r="1.6"/>
<circle cx="214.6" cy="388.2" r="1.6"/>
<circle cx="222.9" cy="388.2" r="1.6"/>
<circle cx="218.9" cy="391.14" r="1.6"/>
<text x="218.6" y="420.7" font-size="5" text-anchor="middle" font-weight="bold">CD69<tspan dy="-1.8" font-size="3.4">+</tspan></text>
<line x1="245.6" y1="378.8" x2="245.6" y2="394.08" stroke="#000" stroke-width="1.5"/>
<line x1="241.2" y1="378.8" x2="250" y2="378.8" stroke="#000" stroke-width="1.5"/>
<line x1="241.2" y1="394.08" x2="250" y2="394.08" stroke="#000" stroke-width="1.5"/>
<circle cx="245.6" cy="369.83" r="1.6"/>
<circle cx="239.7" cy="386.29" r="1.6"/>
<circle cx="242.7" cy="388.79" r="1.6"/>
<circle cx="247.6" cy="388.79" r="1.6"/>
<circle cx="242.3" cy="392.03" r="1.6"/>
<circle cx="247.6" cy="392.03" r="1.6"/>
<circle cx="250.9" cy="389.53" r="1.6"/>
<text x="245.3" y="420.7" font-size="5" text-anchor="middle" font-weight="bold">CD69<tspan dy="-1.8" font-size="3.4">neg</tspan></text>
<line x1="272.3" y1="352.63" x2="272.3" y2="382.03" stroke="#000" stroke-width="1.5"/>
<line x1="267.9" y1="352.63" x2="276.7" y2="352.63" stroke="#000" stroke-width="1.5"/>
<line x1="267.9" y1="382.03" x2="276.7" y2="382.03" stroke="#000" stroke-width="1.5"/>
<circle cx="268.9" cy="345.72" r="1.6"/>
<circle cx="274.2" cy="345.72" r="1.6"/>
<circle cx="268.7" cy="371.45" r="1.6"/>
<circle cx="275.9" cy="371.45" r="1.6"/>
<circle cx="272.3" cy="366.45" r="1.6"/>
<circle cx="272.3" cy="375.27" r="1.6"/>
<circle cx="272.3" cy="379.82" r="1.6"/>
<circle cx="272.3" cy="384.23" r="1.6"/>
<text x="272" y="420.7" font-size="5" text-anchor="middle" font-weight="bold">CD69<tspan dy="-1.8" font-size="3.4">+</tspan></text>
<line x1="299" y1="386.29" x2="299" y2="397.46" stroke="#000" stroke-width="1.5"/>
<line x1="294.6" y1="386.29" x2="303.4" y2="386.29" stroke="#000" stroke-width="1.5"/>
<line x1="294.6" y1="397.46" x2="303.4" y2="397.46" stroke="#000" stroke-width="1.5"/>
<circle cx="298.5" cy="379.24" r="1.6"/>
<circle cx="293.7" cy="392.32" r="1.6"/>
<circle cx="296.8" cy="390.85" r="1.6"/>
<circle cx="301.5" cy="392.61" r="1.6"/>
<circle cx="304.5" cy="391.58" r="1.6"/>
<circle cx="298.5" cy="395.26" r="1.6"/>
<circle cx="298.5" cy="398.2" r="1.6"/>
<text x="298.7" y="420.7" font-size="5" text-anchor="middle" font-weight="bold">CD69<tspan dy="-1.8" font-size="3.4">neg</tspan></text>
<line x1="325.7" y1="382.03" x2="325.7" y2="396.14" stroke="#000" stroke-width="1.5"/>
<line x1="321.3" y1="382.03" x2="330.1" y2="382.03" stroke="#000" stroke-width="1.5"/>
<line x1="321.3" y1="396.14" x2="330.1" y2="396.14" stroke="#000" stroke-width="1.5"/>
<circle cx="325.7" cy="375.71" r="1.6"/>
<circle cx="319.9" cy="388.64" r="1.6"/>
<circle cx="331.4" cy="389.09" r="1.6"/>
<circle cx="321.7" cy="392.03" r="1.6"/>
<circle cx="329.6" cy="392.03" r="1.6"/>
<circle cx="325.7" cy="395.55" r="1.6"/>
<circle cx="325.7" cy="398.94" r="1.6"/>
<text x="325.4" y="420.7" font-size="5" text-anchor="middle" font-weight="bold">CD69<tspan dy="-1.8" font-size="3.4">+</tspan></text>
<line x1="352.4" y1="385.7" x2="352.4" y2="401.88" stroke="#000" stroke-width="1.5"/>
<line x1="348" y1="385.7" x2="356.8" y2="385.7" stroke="#000" stroke-width="1.5"/>
<line x1="348" y1="401.88" x2="356.8" y2="401.88" stroke="#000" stroke-width="1.5"/>
<circle cx="352.1" cy="377.91" r="1.6"/>
<circle cx="349.6" cy="397.91" r="1.6"/>
<circle cx="354" cy="397.91" r="1.6"/>
<circle cx="351.5" cy="400.4" r="1.6"/>
<circle cx="348.4" cy="402.32" r="1.6"/>
<circle cx="355.4" cy="395.26" r="1.6"/>
<circle cx="352.4" cy="393.79" r="1.6"/>
<text x="352.1" y="420.7" font-size="5" text-anchor="middle" font-weight="bold">CD69<tspan dy="-1.8" font-size="3.4">neg</tspan></text>
<line x1="379.1" y1="381.59" x2="379.1" y2="398.2" stroke="#000" stroke-width="1.5"/>
<line x1="374.7" y1="381.59" x2="383.5" y2="381.59" stroke="#000" stroke-width="1.5"/>
<line x1="374.7" y1="398.2" x2="383.5" y2="398.2" stroke="#000" stroke-width="1.5"/>
<circle cx="372.7" cy="380.71" r="1.6"/>
<circle cx="378.3" cy="379.53" r="1.6"/>
<circle cx="373.9" cy="392.91" r="1.6"/>
<circle cx="381.4" cy="392.91" r="1.6"/>
<circle cx="378.3" cy="394.82" r="1.6"/>
<circle cx="378.3" cy="397.32" r="1.6"/>
<circle cx="382.1" cy="390.85" r="1.6"/>
<text x="378.8" y="420.7" font-size="5" text-anchor="middle" font-weight="bold">CD69<tspan dy="-1.8" font-size="3.4">+</tspan></text>
<text x="155.2" y="379" font-size="5.7" text-anchor="middle" font-weight="bold" transform="rotate(-90 155.2 379)">NUR77 gMFI</text>
<text x="162.6" y="378.5" font-size="5.8" text-anchor="middle" font-weight="bold" transform="rotate(-90 162.6 378.5)">(normalized to NDLN)</text>
<line x1="192.75" y1="350.25" x2="222.9" y2="350.25" stroke="#000" stroke-width="1.3"/>
<text x="207.3" y="351.75" font-size="7.2" text-anchor="middle" font-weight="bold" stroke-width="0.3">**</text>
<line x1="245.5" y1="343.1" x2="272" y2="343.1" stroke="#000" stroke-width="1.3"/>
<text x="259.5" y="344.6" font-size="7.2" text-anchor="middle" font-weight="bold" stroke-width="0.3">***</text>
</g>
</svg>
</body></html>
